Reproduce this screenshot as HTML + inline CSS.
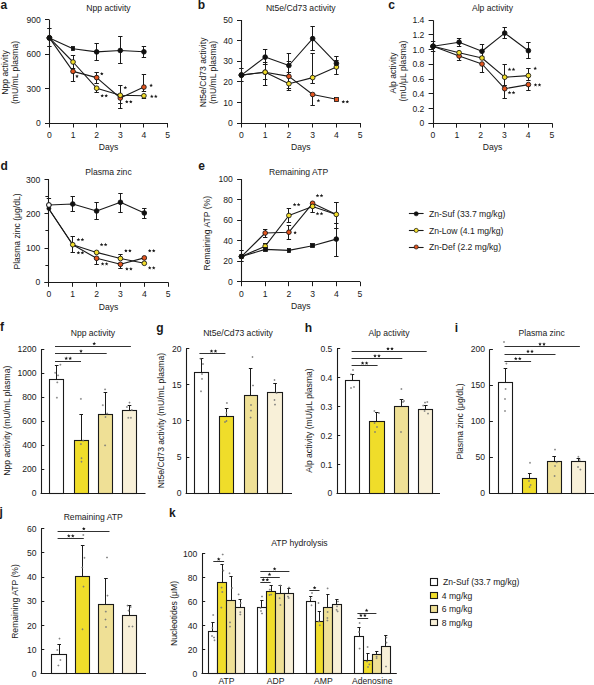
<!DOCTYPE html>
<html><head><meta charset="utf-8"><style>
html,body{margin:0;padding:0;background:#fff;}
body{width:594px;height:685px;overflow:hidden;}
svg{display:block;}
text{font-family:"Liberation Sans",sans-serif;fill:#1a1a1a;}
</style></head><body>
<svg width="594" height="685" viewBox="0 0 594 685">
<rect width="594" height="685" fill="#fff"/>
<line x1="49.5" y1="19.8" x2="49.5" y2="123.5" stroke="#1a1a1a" stroke-width="1.1"/>
<line x1="45" y1="123.5" x2="167.55" y2="123.5" stroke="#1a1a1a" stroke-width="1.1"/>
<line x1="45" y1="123.5" x2="49.4" y2="123.5" stroke="#1a1a1a" stroke-width="1.0"/>
<text x="40.8" y="126.1" font-size="8.6" text-anchor="end">0</text>
<line x1="45" y1="88.5" x2="49.4" y2="88.5" stroke="#1a1a1a" stroke-width="1.0"/>
<text x="40.8" y="91.7" font-size="8.6" text-anchor="end">300</text>
<line x1="45" y1="54.5" x2="49.4" y2="54.5" stroke="#1a1a1a" stroke-width="1.0"/>
<text x="40.8" y="57.3" font-size="8.6" text-anchor="end">600</text>
<line x1="45" y1="19.5" x2="49.4" y2="19.5" stroke="#1a1a1a" stroke-width="1.0"/>
<text x="40.8" y="22.9" font-size="8.6" text-anchor="end">900</text>
<line x1="49.5" y1="123" x2="49.5" y2="127.5" stroke="#1a1a1a" stroke-width="1.0"/>
<text x="49.4" y="137.8" font-size="8.6" text-anchor="middle">0</text>
<line x1="73.5" y1="123" x2="73.5" y2="127.5" stroke="#1a1a1a" stroke-width="1.0"/>
<text x="73.03" y="137.8" font-size="8.6" text-anchor="middle">1</text>
<line x1="96.5" y1="123" x2="96.5" y2="127.5" stroke="#1a1a1a" stroke-width="1.0"/>
<text x="96.66" y="137.8" font-size="8.6" text-anchor="middle">2</text>
<line x1="120.5" y1="123" x2="120.5" y2="127.5" stroke="#1a1a1a" stroke-width="1.0"/>
<text x="120.29" y="137.8" font-size="8.6" text-anchor="middle">3</text>
<line x1="143.5" y1="123" x2="143.5" y2="127.5" stroke="#1a1a1a" stroke-width="1.0"/>
<text x="143.92" y="137.8" font-size="8.6" text-anchor="middle">4</text>
<line x1="167.5" y1="123" x2="167.5" y2="127.5" stroke="#1a1a1a" stroke-width="1.0"/>
<text x="167.55" y="137.8" font-size="8.6" text-anchor="middle">5</text>
<text x="108.47" y="150.2" font-size="8.6" text-anchor="middle">Days</text>
<text x="108.47" y="10.6" font-size="8.6" text-anchor="middle">Npp activity</text>
<text x="8.3" y="72.5" font-size="8.6" text-anchor="middle" transform="rotate(-90 8.3 72.5)">Npp activity</text>
<text x="18.2" y="72.5" font-size="8.6" text-anchor="middle" transform="rotate(-90 18.2 72.5)">(mU/mL plasma)</text>
<text x="0.5" y="9.2" font-size="12" text-anchor="start" font-weight="bold">a</text>
<polyline points="49.4,37.9 73.03,48.7 96.66,51.9 120.29,50.5 143.92,51.8" fill="none" stroke="#1a1a1a" stroke-width="1.1" stroke-linejoin="round"/>
<polyline points="49.4,37.9 73.03,62 96.66,88.2 120.29,95.3 143.92,95.8" fill="none" stroke="#1a1a1a" stroke-width="1.1" stroke-linejoin="round"/>
<polyline points="49.4,37.9 73.03,71.4 96.66,77.6 120.29,98 143.92,87.1" fill="none" stroke="#1a1a1a" stroke-width="1.1" stroke-linejoin="round"/>
<line x1="49.5" y1="28.9" x2="49.5" y2="37.9" stroke="#1a1a1a" stroke-width="1.0"/>
<line x1="47.2" y1="28.5" x2="51.6" y2="28.5" stroke="#1a1a1a" stroke-width="1.0"/>
<line x1="49.5" y1="37.9" x2="49.5" y2="46.4" stroke="#1a1a1a" stroke-width="1.0"/>
<line x1="47.2" y1="46.5" x2="51.6" y2="46.5" stroke="#1a1a1a" stroke-width="1.0"/>
<line x1="96.5" y1="43.5" x2="96.5" y2="51.9" stroke="#1a1a1a" stroke-width="1.0"/>
<line x1="94.46" y1="43.5" x2="98.86" y2="43.5" stroke="#1a1a1a" stroke-width="1.0"/>
<line x1="96.5" y1="51.9" x2="96.5" y2="60.2" stroke="#1a1a1a" stroke-width="1.0"/>
<line x1="94.46" y1="60.5" x2="98.86" y2="60.5" stroke="#1a1a1a" stroke-width="1.0"/>
<line x1="120.5" y1="36.2" x2="120.5" y2="50.5" stroke="#1a1a1a" stroke-width="1.0"/>
<line x1="118.09" y1="36.5" x2="122.49" y2="36.5" stroke="#1a1a1a" stroke-width="1.0"/>
<line x1="120.5" y1="50.5" x2="120.5" y2="63.5" stroke="#1a1a1a" stroke-width="1.0"/>
<line x1="118.09" y1="63.5" x2="122.49" y2="63.5" stroke="#1a1a1a" stroke-width="1.0"/>
<line x1="143.5" y1="46.5" x2="143.5" y2="51.8" stroke="#1a1a1a" stroke-width="1.0"/>
<line x1="141.72" y1="46.5" x2="146.12" y2="46.5" stroke="#1a1a1a" stroke-width="1.0"/>
<line x1="143.5" y1="51.8" x2="143.5" y2="57.6" stroke="#1a1a1a" stroke-width="1.0"/>
<line x1="141.72" y1="57.5" x2="146.12" y2="57.5" stroke="#1a1a1a" stroke-width="1.0"/>
<line x1="73.5" y1="55.5" x2="73.5" y2="62" stroke="#1a1a1a" stroke-width="1.0"/>
<line x1="70.83" y1="55.5" x2="75.23" y2="55.5" stroke="#1a1a1a" stroke-width="1.0"/>
<line x1="73.5" y1="62" x2="73.5" y2="68" stroke="#1a1a1a" stroke-width="1.0"/>
<line x1="70.83" y1="68.5" x2="75.23" y2="68.5" stroke="#1a1a1a" stroke-width="1.0"/>
<line x1="96.5" y1="88.2" x2="96.5" y2="92.4" stroke="#1a1a1a" stroke-width="1.0"/>
<line x1="94.46" y1="92.5" x2="98.86" y2="92.5" stroke="#1a1a1a" stroke-width="1.0"/>
<line x1="120.5" y1="85.5" x2="120.5" y2="95.3" stroke="#1a1a1a" stroke-width="1.0"/>
<line x1="118.09" y1="85.5" x2="122.49" y2="85.5" stroke="#1a1a1a" stroke-width="1.0"/>
<line x1="120.5" y1="95.3" x2="120.5" y2="103" stroke="#1a1a1a" stroke-width="1.0"/>
<line x1="118.09" y1="103.5" x2="122.49" y2="103.5" stroke="#1a1a1a" stroke-width="1.0"/>
<line x1="143.5" y1="95.8" x2="143.5" y2="98.8" stroke="#1a1a1a" stroke-width="1.0"/>
<line x1="141.72" y1="98.5" x2="146.12" y2="98.5" stroke="#1a1a1a" stroke-width="1.0"/>
<line x1="73.5" y1="71.4" x2="73.5" y2="81.7" stroke="#1a1a1a" stroke-width="1.0"/>
<line x1="70.83" y1="81.5" x2="75.23" y2="81.5" stroke="#1a1a1a" stroke-width="1.0"/>
<line x1="96.5" y1="72.1" x2="96.5" y2="77.6" stroke="#1a1a1a" stroke-width="1.0"/>
<line x1="94.46" y1="72.5" x2="98.86" y2="72.5" stroke="#1a1a1a" stroke-width="1.0"/>
<line x1="96.5" y1="77.6" x2="96.5" y2="83.4" stroke="#1a1a1a" stroke-width="1.0"/>
<line x1="94.46" y1="83.5" x2="98.86" y2="83.5" stroke="#1a1a1a" stroke-width="1.0"/>
<line x1="120.5" y1="98" x2="120.5" y2="108.4" stroke="#1a1a1a" stroke-width="1.0"/>
<line x1="118.09" y1="108.5" x2="122.49" y2="108.5" stroke="#1a1a1a" stroke-width="1.0"/>
<line x1="143.5" y1="74.8" x2="143.5" y2="87.1" stroke="#1a1a1a" stroke-width="1.0"/>
<line x1="141.72" y1="74.5" x2="146.12" y2="74.5" stroke="#1a1a1a" stroke-width="1.0"/>
<line x1="143.5" y1="87.1" x2="143.5" y2="91.2" stroke="#1a1a1a" stroke-width="1.0"/>
<line x1="141.72" y1="91.5" x2="146.12" y2="91.5" stroke="#1a1a1a" stroke-width="1.0"/>
<circle cx="49.4" cy="37.9" r="2.35" fill="#e4561f" stroke="#111" stroke-width="0.85"/>
<circle cx="73.03" cy="71.4" r="2.35" fill="#e4561f" stroke="#111" stroke-width="0.85"/>
<circle cx="96.66" cy="77.6" r="2.35" fill="#e4561f" stroke="#111" stroke-width="0.85"/>
<circle cx="120.29" cy="98" r="2.35" fill="#e4561f" stroke="#111" stroke-width="0.85"/>
<circle cx="143.92" cy="87.1" r="2.35" fill="#e4561f" stroke="#111" stroke-width="0.85"/>
<circle cx="49.4" cy="37.9" r="2.35" fill="#f2dd2c" stroke="#111" stroke-width="0.85"/>
<circle cx="73.03" cy="62" r="2.35" fill="#f2dd2c" stroke="#111" stroke-width="0.85"/>
<circle cx="96.66" cy="88.2" r="2.35" fill="#f2dd2c" stroke="#111" stroke-width="0.85"/>
<circle cx="120.29" cy="95.3" r="2.35" fill="#f2dd2c" stroke="#111" stroke-width="0.85"/>
<circle cx="143.92" cy="95.8" r="2.35" fill="#f2dd2c" stroke="#111" stroke-width="0.85"/>
<circle cx="49.4" cy="37.9" r="2.35" fill="#111" stroke="#111" stroke-width="0.85"/>
<rect x="71.5" y="46.5" width="3" height="4" fill="#111" stroke="#111" stroke-width="0.8"/>
<circle cx="96.66" cy="51.9" r="2.35" fill="#111" stroke="#111" stroke-width="0.85"/>
<circle cx="120.29" cy="50.5" r="2.35" fill="#111" stroke="#111" stroke-width="0.85"/>
<circle cx="143.92" cy="51.8" r="2.35" fill="#111" stroke="#111" stroke-width="0.85"/>
<polygon points="77,74.4 77.5,75.61 78.81,75.71 77.81,76.56 78.12,77.84 77,77.15 75.88,77.84 76.19,76.56 75.19,75.71 76.5,75.61" fill="#1a1a1a"/>
<polygon points="101.8,71.9 102.3,73.11 103.61,73.21 102.61,74.06 102.92,75.34 101.8,74.65 100.68,75.34 100.99,74.06 99.99,73.21 101.3,73.11" fill="#1a1a1a"/>
<polygon points="102.2,93.9 102.7,95.11 104.01,95.21 103.01,96.06 103.32,97.34 102.2,96.65 101.08,97.34 101.39,96.06 100.39,95.21 101.7,95.11" fill="#1a1a1a"/>
<polygon points="106.2,93.9 106.7,95.11 108.01,95.21 107.01,96.06 107.32,97.34 106.2,96.65 105.08,97.34 105.39,96.06 104.39,95.21 105.7,95.11" fill="#1a1a1a"/>
<polygon points="125.3,85.8 125.8,87.01 127.11,87.11 126.11,87.96 126.42,89.24 125.3,88.55 124.18,89.24 124.49,87.96 123.49,87.11 124.8,87.01" fill="#1a1a1a"/>
<polygon points="126.8,99.9 127.3,101.11 128.61,101.21 127.61,102.06 127.92,103.34 126.8,102.65 125.68,103.34 125.99,102.06 124.99,101.21 126.3,101.11" fill="#1a1a1a"/>
<polygon points="130.8,99.9 131.3,101.11 132.61,101.21 131.61,102.06 131.92,103.34 130.8,102.65 129.68,103.34 129.99,102.06 128.99,101.21 130.3,101.11" fill="#1a1a1a"/>
<polygon points="151.1,83.6 151.6,84.81 152.91,84.91 151.91,85.76 152.22,87.04 151.1,86.35 149.98,87.04 150.29,85.76 149.29,84.91 150.6,84.81" fill="#1a1a1a"/>
<polygon points="151.8,94.6 152.3,95.81 153.61,95.91 152.61,96.76 152.92,98.04 151.8,97.35 150.68,98.04 150.99,96.76 149.99,95.91 151.3,95.81" fill="#1a1a1a"/>
<polygon points="155.8,94.6 156.3,95.81 157.61,95.91 156.61,96.76 156.92,98.04 155.8,97.35 154.68,98.04 154.99,96.76 153.99,95.91 155.3,95.81" fill="#1a1a1a"/>
<line x1="241.5" y1="20" x2="241.5" y2="123.5" stroke="#1a1a1a" stroke-width="1.1"/>
<line x1="237" y1="123.5" x2="360.15" y2="123.5" stroke="#1a1a1a" stroke-width="1.1"/>
<line x1="237" y1="123.5" x2="241.4" y2="123.5" stroke="#1a1a1a" stroke-width="1.0"/>
<text x="232.8" y="126.1" font-size="8.6" text-anchor="end">0</text>
<line x1="237" y1="102.5" x2="241.4" y2="102.5" stroke="#1a1a1a" stroke-width="1.0"/>
<text x="232.8" y="105.5" font-size="8.6" text-anchor="end">10</text>
<line x1="237" y1="81.5" x2="241.4" y2="81.5" stroke="#1a1a1a" stroke-width="1.0"/>
<text x="232.8" y="84.9" font-size="8.6" text-anchor="end">20</text>
<line x1="237" y1="61.5" x2="241.4" y2="61.5" stroke="#1a1a1a" stroke-width="1.0"/>
<text x="232.8" y="64.3" font-size="8.6" text-anchor="end">30</text>
<line x1="237" y1="40.5" x2="241.4" y2="40.5" stroke="#1a1a1a" stroke-width="1.0"/>
<text x="232.8" y="43.7" font-size="8.6" text-anchor="end">40</text>
<line x1="237" y1="20.5" x2="241.4" y2="20.5" stroke="#1a1a1a" stroke-width="1.0"/>
<text x="232.8" y="23.1" font-size="8.6" text-anchor="end">50</text>
<line x1="241.5" y1="123" x2="241.5" y2="127.5" stroke="#1a1a1a" stroke-width="1.0"/>
<text x="241.4" y="137.8" font-size="8.6" text-anchor="middle">0</text>
<line x1="265.5" y1="123" x2="265.5" y2="127.5" stroke="#1a1a1a" stroke-width="1.0"/>
<text x="265.15" y="137.8" font-size="8.6" text-anchor="middle">1</text>
<line x1="288.5" y1="123" x2="288.5" y2="127.5" stroke="#1a1a1a" stroke-width="1.0"/>
<text x="288.9" y="137.8" font-size="8.6" text-anchor="middle">2</text>
<line x1="312.5" y1="123" x2="312.5" y2="127.5" stroke="#1a1a1a" stroke-width="1.0"/>
<text x="312.65" y="137.8" font-size="8.6" text-anchor="middle">3</text>
<line x1="336.5" y1="123" x2="336.5" y2="127.5" stroke="#1a1a1a" stroke-width="1.0"/>
<text x="336.4" y="137.8" font-size="8.6" text-anchor="middle">4</text>
<line x1="360.5" y1="123" x2="360.5" y2="127.5" stroke="#1a1a1a" stroke-width="1.0"/>
<text x="360.15" y="137.8" font-size="8.6" text-anchor="middle">5</text>
<text x="300.77" y="150.2" font-size="8.6" text-anchor="middle">Days</text>
<text x="300.77" y="10.6" font-size="8.6" text-anchor="middle">Nt5e/Cd73 activity</text>
<text x="206.3" y="72.4" font-size="8.6" text-anchor="middle" transform="rotate(-90 206.3 72.4)">Nt5e/Cd73 activity</text>
<text x="216.2" y="72.4" font-size="8.6" text-anchor="middle" transform="rotate(-90 216.2 72.4)">(mU/mL plasma)</text>
<text x="197.7" y="9.2" font-size="12" text-anchor="start" font-weight="bold">b</text>
<polyline points="241.4,75.1 265.15,57.1 288.9,65.5 312.65,38.6 336.4,63.4" fill="none" stroke="#1a1a1a" stroke-width="1.1" stroke-linejoin="round"/>
<polyline points="241.4,75.1 265.15,72.2 288.9,83.7 312.65,77.6 336.4,67" fill="none" stroke="#1a1a1a" stroke-width="1.1" stroke-linejoin="round"/>
<polyline points="241.4,75.1 265.15,72.2 288.9,76.4 312.65,94.5 336.4,99.3" fill="none" stroke="#1a1a1a" stroke-width="1.1" stroke-linejoin="round"/>
<line x1="241.5" y1="68.4" x2="241.5" y2="75.1" stroke="#1a1a1a" stroke-width="1.0"/>
<line x1="239.2" y1="68.5" x2="243.6" y2="68.5" stroke="#1a1a1a" stroke-width="1.0"/>
<line x1="241.5" y1="75.1" x2="241.5" y2="81.8" stroke="#1a1a1a" stroke-width="1.0"/>
<line x1="239.2" y1="81.5" x2="243.6" y2="81.5" stroke="#1a1a1a" stroke-width="1.0"/>
<line x1="265.5" y1="49.5" x2="265.5" y2="57.1" stroke="#1a1a1a" stroke-width="1.0"/>
<line x1="262.95" y1="49.5" x2="267.35" y2="49.5" stroke="#1a1a1a" stroke-width="1.0"/>
<line x1="265.5" y1="57.1" x2="265.5" y2="64.2" stroke="#1a1a1a" stroke-width="1.0"/>
<line x1="262.95" y1="64.5" x2="267.35" y2="64.5" stroke="#1a1a1a" stroke-width="1.0"/>
<line x1="288.5" y1="53.7" x2="288.5" y2="65.5" stroke="#1a1a1a" stroke-width="1.0"/>
<line x1="286.7" y1="53.5" x2="291.1" y2="53.5" stroke="#1a1a1a" stroke-width="1.0"/>
<line x1="288.5" y1="65.5" x2="288.5" y2="72" stroke="#1a1a1a" stroke-width="1.0"/>
<line x1="286.7" y1="72.5" x2="291.1" y2="72.5" stroke="#1a1a1a" stroke-width="1.0"/>
<line x1="312.5" y1="26.6" x2="312.5" y2="38.6" stroke="#1a1a1a" stroke-width="1.0"/>
<line x1="310.45" y1="26.5" x2="314.85" y2="26.5" stroke="#1a1a1a" stroke-width="1.0"/>
<line x1="312.5" y1="38.6" x2="312.5" y2="50.5" stroke="#1a1a1a" stroke-width="1.0"/>
<line x1="310.45" y1="50.5" x2="314.85" y2="50.5" stroke="#1a1a1a" stroke-width="1.0"/>
<line x1="336.5" y1="56.9" x2="336.5" y2="63.4" stroke="#1a1a1a" stroke-width="1.0"/>
<line x1="334.2" y1="56.5" x2="338.6" y2="56.5" stroke="#1a1a1a" stroke-width="1.0"/>
<line x1="265.5" y1="62.1" x2="265.5" y2="72.2" stroke="#1a1a1a" stroke-width="1.0"/>
<line x1="262.95" y1="62.5" x2="267.35" y2="62.5" stroke="#1a1a1a" stroke-width="1.0"/>
<line x1="265.5" y1="72.2" x2="265.5" y2="85.4" stroke="#1a1a1a" stroke-width="1.0"/>
<line x1="262.95" y1="85.5" x2="267.35" y2="85.5" stroke="#1a1a1a" stroke-width="1.0"/>
<line x1="288.5" y1="76" x2="288.5" y2="83.7" stroke="#1a1a1a" stroke-width="1.0"/>
<line x1="286.7" y1="76.5" x2="291.1" y2="76.5" stroke="#1a1a1a" stroke-width="1.0"/>
<line x1="288.5" y1="83.7" x2="288.5" y2="90.8" stroke="#1a1a1a" stroke-width="1.0"/>
<line x1="286.7" y1="90.5" x2="291.1" y2="90.5" stroke="#1a1a1a" stroke-width="1.0"/>
<line x1="312.5" y1="53.7" x2="312.5" y2="77.6" stroke="#1a1a1a" stroke-width="1.0"/>
<line x1="310.45" y1="53.5" x2="314.85" y2="53.5" stroke="#1a1a1a" stroke-width="1.0"/>
<line x1="312.5" y1="77.6" x2="312.5" y2="83.8" stroke="#1a1a1a" stroke-width="1.0"/>
<line x1="310.45" y1="83.5" x2="314.85" y2="83.5" stroke="#1a1a1a" stroke-width="1.0"/>
<line x1="336.5" y1="60" x2="336.5" y2="67" stroke="#1a1a1a" stroke-width="1.0"/>
<line x1="334.2" y1="60.5" x2="338.6" y2="60.5" stroke="#1a1a1a" stroke-width="1.0"/>
<line x1="336.5" y1="67" x2="336.5" y2="74.3" stroke="#1a1a1a" stroke-width="1.0"/>
<line x1="334.2" y1="74.5" x2="338.6" y2="74.5" stroke="#1a1a1a" stroke-width="1.0"/>
<line x1="265.5" y1="64" x2="265.5" y2="72.2" stroke="#1a1a1a" stroke-width="1.0"/>
<line x1="262.95" y1="64.5" x2="267.35" y2="64.5" stroke="#1a1a1a" stroke-width="1.0"/>
<line x1="265.5" y1="72.2" x2="265.5" y2="79.8" stroke="#1a1a1a" stroke-width="1.0"/>
<line x1="262.95" y1="79.5" x2="267.35" y2="79.5" stroke="#1a1a1a" stroke-width="1.0"/>
<line x1="288.5" y1="61.3" x2="288.5" y2="76.4" stroke="#1a1a1a" stroke-width="1.0"/>
<line x1="286.7" y1="61.5" x2="291.1" y2="61.5" stroke="#1a1a1a" stroke-width="1.0"/>
<line x1="288.5" y1="76.4" x2="288.5" y2="88.2" stroke="#1a1a1a" stroke-width="1.0"/>
<line x1="286.7" y1="88.5" x2="291.1" y2="88.5" stroke="#1a1a1a" stroke-width="1.0"/>
<line x1="312.5" y1="94.5" x2="312.5" y2="105.2" stroke="#1a1a1a" stroke-width="1.0"/>
<line x1="310.45" y1="105.5" x2="314.85" y2="105.5" stroke="#1a1a1a" stroke-width="1.0"/>
<circle cx="241.4" cy="75.1" r="2.35" fill="#e4561f" stroke="#111" stroke-width="0.85"/>
<circle cx="265.15" cy="72.2" r="2.35" fill="#e4561f" stroke="#111" stroke-width="0.85"/>
<circle cx="288.9" cy="76.4" r="2.35" fill="#e4561f" stroke="#111" stroke-width="0.85"/>
<circle cx="312.65" cy="94.5" r="2.35" fill="#e4561f" stroke="#111" stroke-width="0.85"/>
<rect x="334.5" y="97.5" width="4" height="4" fill="#e4561f" stroke="#111" stroke-width="0.8"/>
<circle cx="241.4" cy="75.1" r="2.35" fill="#f2dd2c" stroke="#111" stroke-width="0.85"/>
<circle cx="265.15" cy="72.2" r="2.35" fill="#f2dd2c" stroke="#111" stroke-width="0.85"/>
<circle cx="288.9" cy="83.7" r="2.35" fill="#f2dd2c" stroke="#111" stroke-width="0.85"/>
<circle cx="312.65" cy="77.6" r="2.35" fill="#f2dd2c" stroke="#111" stroke-width="0.85"/>
<circle cx="336.4" cy="67" r="2.35" fill="#f2dd2c" stroke="#111" stroke-width="0.85"/>
<circle cx="241.4" cy="75.1" r="2.35" fill="#111" stroke="#111" stroke-width="0.85"/>
<circle cx="265.15" cy="57.1" r="2.35" fill="#111" stroke="#111" stroke-width="0.85"/>
<circle cx="288.9" cy="65.5" r="2.35" fill="#111" stroke="#111" stroke-width="0.85"/>
<circle cx="312.65" cy="38.6" r="2.35" fill="#111" stroke="#111" stroke-width="0.85"/>
<circle cx="336.4" cy="63.4" r="2.35" fill="#111" stroke="#111" stroke-width="0.85"/>
<polygon points="318.4,98.7 318.9,99.91 320.21,100.01 319.21,100.86 319.52,102.14 318.4,101.45 317.28,102.14 317.59,100.86 316.59,100.01 317.9,99.91" fill="#1a1a1a"/>
<polygon points="343.3,99.9 343.8,101.11 345.11,101.21 344.11,102.06 344.42,103.34 343.3,102.65 342.18,103.34 342.49,102.06 341.49,101.21 342.8,101.11" fill="#1a1a1a"/>
<polygon points="347.3,99.9 347.8,101.11 349.11,101.21 348.11,102.06 348.42,103.34 347.3,102.65 346.18,103.34 346.49,102.06 345.49,101.21 346.8,101.11" fill="#1a1a1a"/>
<line x1="433.5" y1="20.2" x2="433.5" y2="123.7" stroke="#1a1a1a" stroke-width="1.1"/>
<line x1="428.6" y1="123.5" x2="552" y2="123.5" stroke="#1a1a1a" stroke-width="1.1"/>
<line x1="428.6" y1="123.5" x2="433" y2="123.5" stroke="#1a1a1a" stroke-width="1.0"/>
<text x="424.4" y="126.3" font-size="8.6" text-anchor="end">0</text>
<line x1="428.6" y1="108.5" x2="433" y2="108.5" stroke="#1a1a1a" stroke-width="1.0"/>
<text x="424.4" y="111.58" font-size="8.6" text-anchor="end">0.2</text>
<line x1="428.6" y1="93.5" x2="433" y2="93.5" stroke="#1a1a1a" stroke-width="1.0"/>
<text x="424.4" y="96.86" font-size="8.6" text-anchor="end">0.4</text>
<line x1="428.6" y1="79.5" x2="433" y2="79.5" stroke="#1a1a1a" stroke-width="1.0"/>
<text x="424.4" y="82.14" font-size="8.6" text-anchor="end">0.6</text>
<line x1="428.6" y1="64.5" x2="433" y2="64.5" stroke="#1a1a1a" stroke-width="1.0"/>
<text x="424.4" y="67.42" font-size="8.6" text-anchor="end">0.8</text>
<line x1="428.6" y1="49.5" x2="433" y2="49.5" stroke="#1a1a1a" stroke-width="1.0"/>
<text x="424.4" y="52.7" font-size="8.6" text-anchor="end">1.0</text>
<line x1="428.6" y1="34.5" x2="433" y2="34.5" stroke="#1a1a1a" stroke-width="1.0"/>
<text x="424.4" y="37.98" font-size="8.6" text-anchor="end">1.2</text>
<line x1="428.6" y1="20.5" x2="433" y2="20.5" stroke="#1a1a1a" stroke-width="1.0"/>
<text x="424.4" y="23.26" font-size="8.6" text-anchor="end">1.4</text>
<line x1="433.5" y1="123.2" x2="433.5" y2="127.7" stroke="#1a1a1a" stroke-width="1.0"/>
<text x="433" y="138" font-size="8.6" text-anchor="middle">0</text>
<line x1="456.5" y1="123.2" x2="456.5" y2="127.7" stroke="#1a1a1a" stroke-width="1.0"/>
<text x="456.8" y="138" font-size="8.6" text-anchor="middle">1</text>
<line x1="480.5" y1="123.2" x2="480.5" y2="127.7" stroke="#1a1a1a" stroke-width="1.0"/>
<text x="480.6" y="138" font-size="8.6" text-anchor="middle">2</text>
<line x1="504.5" y1="123.2" x2="504.5" y2="127.7" stroke="#1a1a1a" stroke-width="1.0"/>
<text x="504.4" y="138" font-size="8.6" text-anchor="middle">3</text>
<line x1="528.5" y1="123.2" x2="528.5" y2="127.7" stroke="#1a1a1a" stroke-width="1.0"/>
<text x="528.2" y="138" font-size="8.6" text-anchor="middle">4</text>
<line x1="552.5" y1="123.2" x2="552.5" y2="127.7" stroke="#1a1a1a" stroke-width="1.0"/>
<text x="552" y="138" font-size="8.6" text-anchor="middle">5</text>
<text x="492.5" y="150.4" font-size="8.6" text-anchor="middle">Days</text>
<text x="492.5" y="10.6" font-size="8.6" text-anchor="middle">Alp activity</text>
<text x="396" y="73" font-size="8.6" text-anchor="middle" transform="rotate(-90 396 73)">Alp activity</text>
<text x="405.8" y="71" font-size="8.6" text-anchor="middle" transform="rotate(-90 405.8 71)">(mU/μL plasma)</text>
<text x="388.2" y="9.2" font-size="12" text-anchor="start" font-weight="bold">c</text>
<polyline points="433.1,46.3 459.1,42.2 482,51.3 504.7,33.1 528.4,50.7" fill="none" stroke="#1a1a1a" stroke-width="1.1" stroke-linejoin="round"/>
<polyline points="433.1,46.3 459.1,52.7 482,58 504.7,77.2 528.4,75.6" fill="none" stroke="#1a1a1a" stroke-width="1.1" stroke-linejoin="round"/>
<polyline points="433.1,46.3 459.1,56 482,64 504.7,88.7 528.4,84.6" fill="none" stroke="#1a1a1a" stroke-width="1.1" stroke-linejoin="round"/>
<line x1="433.5" y1="41" x2="433.5" y2="46.3" stroke="#1a1a1a" stroke-width="1.0"/>
<line x1="430.9" y1="41.5" x2="435.3" y2="41.5" stroke="#1a1a1a" stroke-width="1.0"/>
<line x1="433.5" y1="46.3" x2="433.5" y2="51.5" stroke="#1a1a1a" stroke-width="1.0"/>
<line x1="430.9" y1="51.5" x2="435.3" y2="51.5" stroke="#1a1a1a" stroke-width="1.0"/>
<line x1="459.5" y1="38.6" x2="459.5" y2="42.2" stroke="#1a1a1a" stroke-width="1.0"/>
<line x1="456.9" y1="38.5" x2="461.3" y2="38.5" stroke="#1a1a1a" stroke-width="1.0"/>
<line x1="459.5" y1="42.2" x2="459.5" y2="46" stroke="#1a1a1a" stroke-width="1.0"/>
<line x1="456.9" y1="46.5" x2="461.3" y2="46.5" stroke="#1a1a1a" stroke-width="1.0"/>
<line x1="482.5" y1="44.6" x2="482.5" y2="51.3" stroke="#1a1a1a" stroke-width="1.0"/>
<line x1="479.8" y1="44.5" x2="484.2" y2="44.5" stroke="#1a1a1a" stroke-width="1.0"/>
<line x1="482.5" y1="51.3" x2="482.5" y2="56" stroke="#1a1a1a" stroke-width="1.0"/>
<line x1="479.8" y1="56.5" x2="484.2" y2="56.5" stroke="#1a1a1a" stroke-width="1.0"/>
<line x1="504.5" y1="27.7" x2="504.5" y2="33.1" stroke="#1a1a1a" stroke-width="1.0"/>
<line x1="502.5" y1="27.5" x2="506.9" y2="27.5" stroke="#1a1a1a" stroke-width="1.0"/>
<line x1="504.5" y1="33.1" x2="504.5" y2="38.2" stroke="#1a1a1a" stroke-width="1.0"/>
<line x1="502.5" y1="38.5" x2="506.9" y2="38.5" stroke="#1a1a1a" stroke-width="1.0"/>
<line x1="528.5" y1="42.6" x2="528.5" y2="50.7" stroke="#1a1a1a" stroke-width="1.0"/>
<line x1="526.2" y1="42.5" x2="530.6" y2="42.5" stroke="#1a1a1a" stroke-width="1.0"/>
<line x1="528.5" y1="50.7" x2="528.5" y2="58" stroke="#1a1a1a" stroke-width="1.0"/>
<line x1="526.2" y1="58.5" x2="530.6" y2="58.5" stroke="#1a1a1a" stroke-width="1.0"/>
<line x1="504.5" y1="64.8" x2="504.5" y2="77.2" stroke="#1a1a1a" stroke-width="1.0"/>
<line x1="502.5" y1="64.5" x2="506.9" y2="64.5" stroke="#1a1a1a" stroke-width="1.0"/>
<line x1="504.5" y1="77.2" x2="504.5" y2="85" stroke="#1a1a1a" stroke-width="1.0"/>
<line x1="502.5" y1="85.5" x2="506.9" y2="85.5" stroke="#1a1a1a" stroke-width="1.0"/>
<line x1="528.5" y1="68.5" x2="528.5" y2="75.6" stroke="#1a1a1a" stroke-width="1.0"/>
<line x1="526.2" y1="68.5" x2="530.6" y2="68.5" stroke="#1a1a1a" stroke-width="1.0"/>
<line x1="528.5" y1="75.6" x2="528.5" y2="80" stroke="#1a1a1a" stroke-width="1.0"/>
<line x1="526.2" y1="80.5" x2="530.6" y2="80.5" stroke="#1a1a1a" stroke-width="1.0"/>
<line x1="459.5" y1="56" x2="459.5" y2="60" stroke="#1a1a1a" stroke-width="1.0"/>
<line x1="456.9" y1="60.5" x2="461.3" y2="60.5" stroke="#1a1a1a" stroke-width="1.0"/>
<line x1="482.5" y1="64" x2="482.5" y2="72.5" stroke="#1a1a1a" stroke-width="1.0"/>
<line x1="479.8" y1="72.5" x2="484.2" y2="72.5" stroke="#1a1a1a" stroke-width="1.0"/>
<line x1="504.5" y1="88.7" x2="504.5" y2="98" stroke="#1a1a1a" stroke-width="1.0"/>
<line x1="502.5" y1="98.5" x2="506.9" y2="98.5" stroke="#1a1a1a" stroke-width="1.0"/>
<line x1="528.5" y1="84.6" x2="528.5" y2="90.3" stroke="#1a1a1a" stroke-width="1.0"/>
<line x1="526.2" y1="90.5" x2="530.6" y2="90.5" stroke="#1a1a1a" stroke-width="1.0"/>
<circle cx="433.1" cy="46.3" r="2.35" fill="#e4561f" stroke="#111" stroke-width="0.85"/>
<circle cx="459.1" cy="56" r="2.35" fill="#e4561f" stroke="#111" stroke-width="0.85"/>
<circle cx="482" cy="64" r="2.35" fill="#e4561f" stroke="#111" stroke-width="0.85"/>
<circle cx="504.7" cy="88.7" r="2.35" fill="#e4561f" stroke="#111" stroke-width="0.85"/>
<circle cx="528.4" cy="84.6" r="2.35" fill="#e4561f" stroke="#111" stroke-width="0.85"/>
<circle cx="433.1" cy="46.3" r="2.35" fill="#f2dd2c" stroke="#111" stroke-width="0.85"/>
<circle cx="459.1" cy="52.7" r="2.35" fill="#f2dd2c" stroke="#111" stroke-width="0.85"/>
<circle cx="482" cy="58" r="2.35" fill="#f2dd2c" stroke="#111" stroke-width="0.85"/>
<circle cx="504.7" cy="77.2" r="2.35" fill="#f2dd2c" stroke="#111" stroke-width="0.85"/>
<circle cx="528.4" cy="75.6" r="2.35" fill="#f2dd2c" stroke="#111" stroke-width="0.85"/>
<circle cx="433.1" cy="46.3" r="2.35" fill="#111" stroke="#111" stroke-width="0.85"/>
<circle cx="459.1" cy="42.2" r="2.35" fill="#111" stroke="#111" stroke-width="0.85"/>
<circle cx="482" cy="51.3" r="2.35" fill="#111" stroke="#111" stroke-width="0.85"/>
<circle cx="504.7" cy="33.1" r="2.35" fill="#111" stroke="#111" stroke-width="0.85"/>
<circle cx="528.4" cy="50.7" r="2.35" fill="#111" stroke="#111" stroke-width="0.85"/>
<polygon points="509.5,67.6 510,68.81 511.31,68.91 510.31,69.76 510.62,71.04 509.5,70.35 508.38,71.04 508.69,69.76 507.69,68.91 509,68.81" fill="#1a1a1a"/>
<polygon points="513.5,67.6 514,68.81 515.31,68.91 514.31,69.76 514.62,71.04 513.5,70.35 512.38,71.04 512.69,69.76 511.69,68.91 513,68.81" fill="#1a1a1a"/>
<polygon points="535.2,66.6 535.7,67.81 537.01,67.91 536.01,68.76 536.32,70.04 535.2,69.35 534.08,70.04 534.39,68.76 533.39,67.91 534.7,67.81" fill="#1a1a1a"/>
<polygon points="535.5,83.1 536,84.31 537.31,84.41 536.31,85.26 536.62,86.54 535.5,85.85 534.38,86.54 534.69,85.26 533.69,84.41 535,84.31" fill="#1a1a1a"/>
<polygon points="539.5,83.1 540,84.31 541.31,84.41 540.31,85.26 540.62,86.54 539.5,85.85 538.38,86.54 538.69,85.26 537.69,84.41 539,84.31" fill="#1a1a1a"/>
<polygon points="509.5,90.8 510,92.01 511.31,92.11 510.31,92.96 510.62,94.24 509.5,93.55 508.38,94.24 508.69,92.96 507.69,92.11 509,92.01" fill="#1a1a1a"/>
<polygon points="513.5,90.8 514,92.01 515.31,92.11 514.31,92.96 514.62,94.24 513.5,93.55 512.38,94.24 512.69,92.96 511.69,92.11 513,92.01" fill="#1a1a1a"/>
<line x1="48.5" y1="179" x2="48.5" y2="282.8" stroke="#1a1a1a" stroke-width="1.1"/>
<line x1="44.5" y1="282.5" x2="168.15" y2="282.5" stroke="#1a1a1a" stroke-width="1.1"/>
<line x1="44.5" y1="282.5" x2="48.9" y2="282.5" stroke="#1a1a1a" stroke-width="1.0"/>
<text x="40.3" y="285.4" font-size="8.6" text-anchor="end">0</text>
<line x1="44.5" y1="248.5" x2="48.9" y2="248.5" stroke="#1a1a1a" stroke-width="1.0"/>
<text x="40.3" y="251.1" font-size="8.6" text-anchor="end">100</text>
<line x1="44.5" y1="213.5" x2="48.9" y2="213.5" stroke="#1a1a1a" stroke-width="1.0"/>
<text x="40.3" y="216.8" font-size="8.6" text-anchor="end">200</text>
<line x1="44.5" y1="179.5" x2="48.9" y2="179.5" stroke="#1a1a1a" stroke-width="1.0"/>
<text x="40.3" y="182.5" font-size="8.6" text-anchor="end">300</text>
<line x1="45.4" y1="265.5" x2="48.9" y2="265.5" stroke="#1a1a1a" stroke-width="1.0"/>
<line x1="45.4" y1="230.5" x2="48.9" y2="230.5" stroke="#1a1a1a" stroke-width="1.0"/>
<line x1="45.4" y1="196.5" x2="48.9" y2="196.5" stroke="#1a1a1a" stroke-width="1.0"/>
<line x1="48.5" y1="282.3" x2="48.5" y2="286.8" stroke="#1a1a1a" stroke-width="1.0"/>
<text x="48.9" y="297.1" font-size="8.6" text-anchor="middle">0</text>
<line x1="72.5" y1="282.3" x2="72.5" y2="286.8" stroke="#1a1a1a" stroke-width="1.0"/>
<text x="72.75" y="297.1" font-size="8.6" text-anchor="middle">1</text>
<line x1="96.5" y1="282.3" x2="96.5" y2="286.8" stroke="#1a1a1a" stroke-width="1.0"/>
<text x="96.6" y="297.1" font-size="8.6" text-anchor="middle">2</text>
<line x1="120.5" y1="282.3" x2="120.5" y2="286.8" stroke="#1a1a1a" stroke-width="1.0"/>
<text x="120.45" y="297.1" font-size="8.6" text-anchor="middle">3</text>
<line x1="144.5" y1="282.3" x2="144.5" y2="286.8" stroke="#1a1a1a" stroke-width="1.0"/>
<text x="144.3" y="297.1" font-size="8.6" text-anchor="middle">4</text>
<line x1="168.5" y1="282.3" x2="168.5" y2="286.8" stroke="#1a1a1a" stroke-width="1.0"/>
<text x="168.15" y="297.1" font-size="8.6" text-anchor="middle">5</text>
<text x="108.53" y="309.5" font-size="8.6" text-anchor="middle">Days</text>
<text x="108.53" y="174.8" font-size="8.6" text-anchor="middle">Plasma zinc</text>
<text x="20.3" y="231.5" font-size="8.6" text-anchor="middle" transform="rotate(-90 20.3 231.5)">Plasma zinc (μg/dL)</text>
<text x="0.5" y="169.5" font-size="12" text-anchor="start" font-weight="bold">d</text>
<polyline points="48.9,205 72.75,204 96.6,211 120.45,202.3 144.3,213" fill="none" stroke="#1a1a1a" stroke-width="1.1" stroke-linejoin="round"/>
<polyline points="48.9,209 72.75,244.7 96.6,252.4 120.45,258.5 144.3,263.3" fill="none" stroke="#1a1a1a" stroke-width="1.1" stroke-linejoin="round"/>
<polyline points="48.9,209 72.75,244.7 96.6,258.3 120.45,264.3 144.3,257.9" fill="none" stroke="#1a1a1a" stroke-width="1.1" stroke-linejoin="round"/>
<line x1="48.5" y1="198" x2="48.5" y2="205" stroke="#1a1a1a" stroke-width="1.0"/>
<line x1="46.7" y1="198.5" x2="51.1" y2="198.5" stroke="#1a1a1a" stroke-width="1.0"/>
<line x1="72.5" y1="196.9" x2="72.5" y2="204" stroke="#1a1a1a" stroke-width="1.0"/>
<line x1="70.55" y1="196.5" x2="74.95" y2="196.5" stroke="#1a1a1a" stroke-width="1.0"/>
<line x1="72.5" y1="204" x2="72.5" y2="211.4" stroke="#1a1a1a" stroke-width="1.0"/>
<line x1="70.55" y1="211.5" x2="74.95" y2="211.5" stroke="#1a1a1a" stroke-width="1.0"/>
<line x1="96.5" y1="202.7" x2="96.5" y2="211" stroke="#1a1a1a" stroke-width="1.0"/>
<line x1="94.4" y1="202.5" x2="98.8" y2="202.5" stroke="#1a1a1a" stroke-width="1.0"/>
<line x1="96.5" y1="211" x2="96.5" y2="219.5" stroke="#1a1a1a" stroke-width="1.0"/>
<line x1="94.4" y1="219.5" x2="98.8" y2="219.5" stroke="#1a1a1a" stroke-width="1.0"/>
<line x1="120.5" y1="193.2" x2="120.5" y2="202.3" stroke="#1a1a1a" stroke-width="1.0"/>
<line x1="118.25" y1="193.5" x2="122.65" y2="193.5" stroke="#1a1a1a" stroke-width="1.0"/>
<line x1="120.5" y1="202.3" x2="120.5" y2="212" stroke="#1a1a1a" stroke-width="1.0"/>
<line x1="118.25" y1="212.5" x2="122.65" y2="212.5" stroke="#1a1a1a" stroke-width="1.0"/>
<line x1="144.5" y1="208.4" x2="144.5" y2="213" stroke="#1a1a1a" stroke-width="1.0"/>
<line x1="142.1" y1="208.5" x2="146.5" y2="208.5" stroke="#1a1a1a" stroke-width="1.0"/>
<line x1="144.5" y1="213" x2="144.5" y2="218.5" stroke="#1a1a1a" stroke-width="1.0"/>
<line x1="142.1" y1="218.5" x2="146.5" y2="218.5" stroke="#1a1a1a" stroke-width="1.0"/>
<line x1="72.5" y1="236.3" x2="72.5" y2="244.7" stroke="#1a1a1a" stroke-width="1.0"/>
<line x1="70.55" y1="236.5" x2="74.95" y2="236.5" stroke="#1a1a1a" stroke-width="1.0"/>
<line x1="72.5" y1="244.7" x2="72.5" y2="252.8" stroke="#1a1a1a" stroke-width="1.0"/>
<line x1="70.55" y1="252.5" x2="74.95" y2="252.5" stroke="#1a1a1a" stroke-width="1.0"/>
<line x1="120.5" y1="254.5" x2="120.5" y2="258.5" stroke="#1a1a1a" stroke-width="1.0"/>
<line x1="118.25" y1="254.5" x2="122.65" y2="254.5" stroke="#1a1a1a" stroke-width="1.0"/>
<line x1="96.5" y1="258.3" x2="96.5" y2="264" stroke="#1a1a1a" stroke-width="1.0"/>
<line x1="94.4" y1="264.5" x2="98.8" y2="264.5" stroke="#1a1a1a" stroke-width="1.0"/>
<line x1="120.5" y1="264.3" x2="120.5" y2="268.4" stroke="#1a1a1a" stroke-width="1.0"/>
<line x1="118.25" y1="268.5" x2="122.65" y2="268.5" stroke="#1a1a1a" stroke-width="1.0"/>
<circle cx="96.6" cy="258.3" r="2.35" fill="#e4561f" stroke="#111" stroke-width="0.85"/>
<circle cx="120.45" cy="264.3" r="2.35" fill="#e4561f" stroke="#111" stroke-width="0.85"/>
<circle cx="144.3" cy="257.9" r="2.35" fill="#e4561f" stroke="#111" stroke-width="0.85"/>
<circle cx="72.75" cy="244.7" r="2.35" fill="#f2dd2c" stroke="#111" stroke-width="0.85"/>
<circle cx="96.6" cy="252.4" r="2.35" fill="#f2dd2c" stroke="#111" stroke-width="0.85"/>
<circle cx="120.45" cy="258.5" r="2.35" fill="#f2dd2c" stroke="#111" stroke-width="0.85"/>
<circle cx="144.3" cy="263.3" r="2.35" fill="#f2dd2c" stroke="#111" stroke-width="0.85"/>
<circle cx="48.9" cy="205" r="2.3" fill="#fff" stroke="#111" stroke-width="0.9"/>
<circle cx="72.75" cy="204" r="2.35" fill="#111" stroke="#111" stroke-width="0.85"/>
<circle cx="96.6" cy="211" r="2.35" fill="#111" stroke="#111" stroke-width="0.85"/>
<circle cx="120.45" cy="202.3" r="2.35" fill="#111" stroke="#111" stroke-width="0.85"/>
<circle cx="144.3" cy="213" r="2.35" fill="#111" stroke="#111" stroke-width="0.85"/>
<polygon points="78.4,237.8 78.9,239.01 80.21,239.11 79.21,239.96 79.52,241.24 78.4,240.55 77.28,241.24 77.59,239.96 76.59,239.11 77.9,239.01" fill="#1a1a1a"/>
<polygon points="82.4,237.8 82.9,239.01 84.21,239.11 83.21,239.96 83.52,241.24 82.4,240.55 81.28,241.24 81.59,239.96 80.59,239.11 81.9,239.01" fill="#1a1a1a"/>
<polygon points="78.4,250.9 78.9,252.11 80.21,252.21 79.21,253.06 79.52,254.34 78.4,253.65 77.28,254.34 77.59,253.06 76.59,252.21 77.9,252.11" fill="#1a1a1a"/>
<polygon points="82.4,250.9 82.9,252.11 84.21,252.21 83.21,253.06 83.52,254.34 82.4,253.65 81.28,254.34 81.59,253.06 80.59,252.21 81.9,252.11" fill="#1a1a1a"/>
<polygon points="101.6,242.8 102.1,244.01 103.41,244.11 102.41,244.96 102.72,246.24 101.6,245.55 100.48,246.24 100.79,244.96 99.79,244.11 101.1,244.01" fill="#1a1a1a"/>
<polygon points="105.6,242.8 106.1,244.01 107.41,244.11 106.41,244.96 106.72,246.24 105.6,245.55 104.48,246.24 104.79,244.96 103.79,244.11 105.1,244.01" fill="#1a1a1a"/>
<polygon points="102.6,262.1 103.1,263.31 104.41,263.41 103.41,264.26 103.72,265.54 102.6,264.85 101.48,265.54 101.79,264.26 100.79,263.41 102.1,263.31" fill="#1a1a1a"/>
<polygon points="106.6,262.1 107.1,263.31 108.41,263.41 107.41,264.26 107.72,265.54 106.6,264.85 105.48,265.54 105.79,264.26 104.79,263.41 106.1,263.31" fill="#1a1a1a"/>
<polygon points="125.9,248.9 126.4,250.11 127.71,250.21 126.71,251.06 127.02,252.34 125.9,251.65 124.78,252.34 125.09,251.06 124.09,250.21 125.4,250.11" fill="#1a1a1a"/>
<polygon points="129.9,248.9 130.4,250.11 131.71,250.21 130.71,251.06 131.02,252.34 129.9,251.65 128.78,252.34 129.09,251.06 128.09,250.21 129.4,250.11" fill="#1a1a1a"/>
<polygon points="126.9,267.1 127.4,268.31 128.71,268.41 127.71,269.26 128.02,270.54 126.9,269.85 125.78,270.54 126.09,269.26 125.09,268.41 126.4,268.31" fill="#1a1a1a"/>
<polygon points="130.9,267.1 131.4,268.31 132.71,268.41 131.71,269.26 132.02,270.54 130.9,269.85 129.78,270.54 130.09,269.26 129.09,268.41 130.4,268.31" fill="#1a1a1a"/>
<polygon points="149.7,248.9 150.2,250.11 151.51,250.21 150.51,251.06 150.82,252.34 149.7,251.65 148.58,252.34 148.89,251.06 147.89,250.21 149.2,250.11" fill="#1a1a1a"/>
<polygon points="153.7,248.9 154.2,250.11 155.51,250.21 154.51,251.06 154.82,252.34 153.7,251.65 152.58,252.34 152.89,251.06 151.89,250.21 153.2,250.11" fill="#1a1a1a"/>
<polygon points="149.7,266.1 150.2,267.31 151.51,267.41 150.51,268.26 150.82,269.54 149.7,268.85 148.58,269.54 148.89,268.26 147.89,267.41 149.2,267.31" fill="#1a1a1a"/>
<polygon points="153.7,266.1 154.2,267.31 155.51,267.41 154.51,268.26 154.82,269.54 153.7,268.85 152.58,269.54 152.89,268.26 151.89,267.41 153.2,267.31" fill="#1a1a1a"/>
<circle cx="48.9" cy="208.5" r="2" fill="#111" stroke="#111" stroke-width="0.6"/>
<circle cx="48.9" cy="205" r="2.3" fill="#fff" stroke="#111" stroke-width="0.9"/>
<line x1="241.5" y1="179.1" x2="241.5" y2="282.2" stroke="#1a1a1a" stroke-width="1.1"/>
<line x1="237.1" y1="281.5" x2="360" y2="281.5" stroke="#1a1a1a" stroke-width="1.1"/>
<line x1="237.1" y1="281.5" x2="241.5" y2="281.5" stroke="#1a1a1a" stroke-width="1.0"/>
<text x="232.9" y="284.8" font-size="8.6" text-anchor="end">0</text>
<line x1="237.1" y1="261.5" x2="241.5" y2="261.5" stroke="#1a1a1a" stroke-width="1.0"/>
<text x="232.9" y="264.28" font-size="8.6" text-anchor="end">20</text>
<line x1="237.1" y1="240.5" x2="241.5" y2="240.5" stroke="#1a1a1a" stroke-width="1.0"/>
<text x="232.9" y="243.76" font-size="8.6" text-anchor="end">40</text>
<line x1="237.1" y1="220.5" x2="241.5" y2="220.5" stroke="#1a1a1a" stroke-width="1.0"/>
<text x="232.9" y="223.24" font-size="8.6" text-anchor="end">60</text>
<line x1="237.1" y1="199.5" x2="241.5" y2="199.5" stroke="#1a1a1a" stroke-width="1.0"/>
<text x="232.9" y="202.72" font-size="8.6" text-anchor="end">80</text>
<line x1="237.1" y1="179.5" x2="241.5" y2="179.5" stroke="#1a1a1a" stroke-width="1.0"/>
<text x="232.9" y="182.2" font-size="8.6" text-anchor="end">100</text>
<line x1="241.5" y1="281.7" x2="241.5" y2="286.2" stroke="#1a1a1a" stroke-width="1.0"/>
<text x="241.5" y="296.5" font-size="8.6" text-anchor="middle">0</text>
<line x1="265.5" y1="281.7" x2="265.5" y2="286.2" stroke="#1a1a1a" stroke-width="1.0"/>
<text x="265.2" y="296.5" font-size="8.6" text-anchor="middle">1</text>
<line x1="288.5" y1="281.7" x2="288.5" y2="286.2" stroke="#1a1a1a" stroke-width="1.0"/>
<text x="288.9" y="296.5" font-size="8.6" text-anchor="middle">2</text>
<line x1="312.5" y1="281.7" x2="312.5" y2="286.2" stroke="#1a1a1a" stroke-width="1.0"/>
<text x="312.6" y="296.5" font-size="8.6" text-anchor="middle">3</text>
<line x1="336.5" y1="281.7" x2="336.5" y2="286.2" stroke="#1a1a1a" stroke-width="1.0"/>
<text x="336.3" y="296.5" font-size="8.6" text-anchor="middle">4</text>
<line x1="360.5" y1="281.7" x2="360.5" y2="286.2" stroke="#1a1a1a" stroke-width="1.0"/>
<text x="360" y="296.5" font-size="8.6" text-anchor="middle">5</text>
<text x="300.75" y="308.9" font-size="8.6" text-anchor="middle">Days</text>
<text x="298.6" y="174.8" font-size="8.6" text-anchor="middle">Remaining ATP</text>
<text x="210.3" y="233.2" font-size="8.6" text-anchor="middle" transform="rotate(-90 210.3 233.2)">Remaining ATP (%)</text>
<text x="198.2" y="169.5" font-size="12" text-anchor="start" font-weight="bold">e</text>
<polyline points="241.5,256.5 265.2,249.4 288.9,250.4 312.6,245.8 336.3,239.1" fill="none" stroke="#1a1a1a" stroke-width="1.1" stroke-linejoin="round"/>
<polyline points="241.5,256.5 265.2,246.2 288.9,215.5 312.6,206.4 336.3,214.4" fill="none" stroke="#1a1a1a" stroke-width="1.1" stroke-linejoin="round"/>
<polyline points="241.5,256.5 265.2,233 288.9,232.2 312.6,203.3 336.3,214.4" fill="none" stroke="#1a1a1a" stroke-width="1.1" stroke-linejoin="round"/>
<line x1="241.5" y1="250.4" x2="241.5" y2="256.5" stroke="#1a1a1a" stroke-width="1.0"/>
<line x1="239.3" y1="250.5" x2="243.7" y2="250.5" stroke="#1a1a1a" stroke-width="1.0"/>
<line x1="241.5" y1="256.5" x2="241.5" y2="261.9" stroke="#1a1a1a" stroke-width="1.0"/>
<line x1="239.3" y1="261.5" x2="243.7" y2="261.5" stroke="#1a1a1a" stroke-width="1.0"/>
<line x1="336.5" y1="202.3" x2="336.5" y2="239.1" stroke="#1a1a1a" stroke-width="1.0"/>
<line x1="334.1" y1="202.5" x2="338.5" y2="202.5" stroke="#1a1a1a" stroke-width="1.0"/>
<line x1="336.5" y1="239.1" x2="336.5" y2="256.5" stroke="#1a1a1a" stroke-width="1.0"/>
<line x1="334.1" y1="256.5" x2="338.5" y2="256.5" stroke="#1a1a1a" stroke-width="1.0"/>
<line x1="265.5" y1="243.2" x2="265.5" y2="246.2" stroke="#1a1a1a" stroke-width="1.0"/>
<line x1="263" y1="243.5" x2="267.4" y2="243.5" stroke="#1a1a1a" stroke-width="1.0"/>
<line x1="288.5" y1="208.4" x2="288.5" y2="215.5" stroke="#1a1a1a" stroke-width="1.0"/>
<line x1="286.7" y1="208.5" x2="291.1" y2="208.5" stroke="#1a1a1a" stroke-width="1.0"/>
<line x1="288.5" y1="215.5" x2="288.5" y2="222" stroke="#1a1a1a" stroke-width="1.0"/>
<line x1="286.7" y1="222.5" x2="291.1" y2="222.5" stroke="#1a1a1a" stroke-width="1.0"/>
<line x1="312.5" y1="206.4" x2="312.5" y2="212" stroke="#1a1a1a" stroke-width="1.0"/>
<line x1="310.4" y1="212.5" x2="314.8" y2="212.5" stroke="#1a1a1a" stroke-width="1.0"/>
<line x1="336.5" y1="202.3" x2="336.5" y2="214.4" stroke="#1a1a1a" stroke-width="1.0"/>
<line x1="334.1" y1="202.5" x2="338.5" y2="202.5" stroke="#1a1a1a" stroke-width="1.0"/>
<line x1="336.5" y1="214.4" x2="336.5" y2="223.5" stroke="#1a1a1a" stroke-width="1.0"/>
<line x1="334.1" y1="223.5" x2="338.5" y2="223.5" stroke="#1a1a1a" stroke-width="1.0"/>
<line x1="265.5" y1="229" x2="265.5" y2="233" stroke="#1a1a1a" stroke-width="1.0"/>
<line x1="263" y1="229.5" x2="267.4" y2="229.5" stroke="#1a1a1a" stroke-width="1.0"/>
<line x1="265.5" y1="233" x2="265.5" y2="237.3" stroke="#1a1a1a" stroke-width="1.0"/>
<line x1="263" y1="237.5" x2="267.4" y2="237.5" stroke="#1a1a1a" stroke-width="1.0"/>
<line x1="288.5" y1="225" x2="288.5" y2="232.2" stroke="#1a1a1a" stroke-width="1.0"/>
<line x1="286.7" y1="225.5" x2="291.1" y2="225.5" stroke="#1a1a1a" stroke-width="1.0"/>
<line x1="288.5" y1="232.2" x2="288.5" y2="239.1" stroke="#1a1a1a" stroke-width="1.0"/>
<line x1="286.7" y1="239.5" x2="291.1" y2="239.5" stroke="#1a1a1a" stroke-width="1.0"/>
<line x1="336.5" y1="228.6" x2="336.5" y2="214.4" stroke="#1a1a1a" stroke-width="1.0"/>
<line x1="334.1" y1="228.5" x2="338.5" y2="228.5" stroke="#1a1a1a" stroke-width="1.0"/>
<circle cx="241.5" cy="256.5" r="2.35" fill="#e4561f" stroke="#111" stroke-width="0.85"/>
<circle cx="265.2" cy="233" r="2.35" fill="#e4561f" stroke="#111" stroke-width="0.85"/>
<circle cx="288.9" cy="232.2" r="2.35" fill="#e4561f" stroke="#111" stroke-width="0.85"/>
<circle cx="312.6" cy="203.3" r="2.35" fill="#e4561f" stroke="#111" stroke-width="0.85"/>
<circle cx="241.5" cy="256.5" r="2.35" fill="#f2dd2c" stroke="#111" stroke-width="0.85"/>
<circle cx="265.2" cy="246.2" r="2.35" fill="#f2dd2c" stroke="#111" stroke-width="0.85"/>
<circle cx="288.9" cy="215.5" r="2.35" fill="#f2dd2c" stroke="#111" stroke-width="0.85"/>
<circle cx="312.6" cy="206.4" r="2.35" fill="#f2dd2c" stroke="#111" stroke-width="0.85"/>
<circle cx="336.3" cy="214.4" r="2.35" fill="#f2dd2c" stroke="#111" stroke-width="0.85"/>
<circle cx="241.5" cy="256.5" r="2.35" fill="#111" stroke="#111" stroke-width="0.85"/>
<rect x="263.5" y="247.5" width="4" height="4" fill="#111" stroke="#111" stroke-width="0.8"/>
<rect x="287.5" y="248.5" width="3" height="4" fill="#111" stroke="#111" stroke-width="0.8"/>
<rect x="310.5" y="243.5" width="4" height="4" fill="#111" stroke="#111" stroke-width="0.8"/>
<circle cx="336.3" cy="239.1" r="2.35" fill="#111" stroke="#111" stroke-width="0.85"/>
<polygon points="294.6,202.8 295.1,204.01 296.41,204.11 295.41,204.96 295.72,206.24 294.6,205.55 293.48,206.24 293.79,204.96 292.79,204.11 294.1,204.01" fill="#1a1a1a"/>
<polygon points="298.6,202.8 299.1,204.01 300.41,204.11 299.41,204.96 299.72,206.24 298.6,205.55 297.48,206.24 297.79,204.96 296.79,204.11 298.1,204.01" fill="#1a1a1a"/>
<polygon points="295.1,230.7 295.6,231.91 296.91,232.01 295.91,232.86 296.22,234.14 295.1,233.45 293.98,234.14 294.29,232.86 293.29,232.01 294.6,231.91" fill="#1a1a1a"/>
<polygon points="317.5,193.8 318,195.01 319.31,195.11 318.31,195.96 318.62,197.24 317.5,196.55 316.38,197.24 316.69,195.96 315.69,195.11 317,195.01" fill="#1a1a1a"/>
<polygon points="321.5,193.8 322,195.01 323.31,195.11 322.31,195.96 322.62,197.24 321.5,196.55 320.38,197.24 320.69,195.96 319.69,195.11 321,195.01" fill="#1a1a1a"/>
<polygon points="317.5,211.7 318,212.91 319.31,213.01 318.31,213.86 318.62,215.14 317.5,214.45 316.38,215.14 316.69,213.86 315.69,213.01 317,212.91" fill="#1a1a1a"/>
<polygon points="321.5,211.7 322,212.91 323.31,213.01 322.31,213.86 322.62,215.14 321.5,214.45 320.38,215.14 320.69,213.86 319.69,213.01 321,212.91" fill="#1a1a1a"/>
<line x1="408.9" y1="213.5" x2="423.6" y2="213.5" stroke="#1a1a1a" stroke-width="1.1"/>
<circle cx="416.2" cy="213.8" r="2.05" fill="#111" stroke="#111" stroke-width="0.7"/>
<text x="428.9" y="216.9" font-size="8.6" text-anchor="start">Zn-Suf (33.7 mg/kg)</text>
<line x1="408.9" y1="230.5" x2="423.6" y2="230.5" stroke="#1a1a1a" stroke-width="1.1"/>
<circle cx="416.2" cy="230.4" r="2.05" fill="#f2dd2c" stroke="#111" stroke-width="0.7"/>
<text x="428.9" y="233.5" font-size="8.6" text-anchor="start">Zn-Low (4.1 mg/kg)</text>
<line x1="408.9" y1="247.5" x2="423.6" y2="247.5" stroke="#1a1a1a" stroke-width="1.1"/>
<circle cx="416.2" cy="247" r="2.05" fill="#e4561f" stroke="#111" stroke-width="0.7"/>
<text x="428.9" y="250.1" font-size="8.6" text-anchor="start">Zn-Def (2.2 mg/kg)</text>
<line x1="41.5" y1="349.3" x2="41.5" y2="493.3" stroke="#1a1a1a" stroke-width="1.1"/>
<line x1="40.6" y1="493.5" x2="145.5" y2="493.5" stroke="#1a1a1a" stroke-width="1.1"/>
<line x1="41.1" y1="493.5" x2="44.3" y2="493.5" stroke="#1a1a1a" stroke-width="1.0"/>
<text x="36.5" y="496.4" font-size="8.6" text-anchor="end">0</text>
<line x1="41.1" y1="469.5" x2="44.3" y2="469.5" stroke="#1a1a1a" stroke-width="1.0"/>
<text x="36.5" y="472.4" font-size="8.6" text-anchor="end">200</text>
<line x1="41.1" y1="445.5" x2="44.3" y2="445.5" stroke="#1a1a1a" stroke-width="1.0"/>
<text x="36.5" y="448.4" font-size="8.6" text-anchor="end">400</text>
<line x1="41.1" y1="421.5" x2="44.3" y2="421.5" stroke="#1a1a1a" stroke-width="1.0"/>
<text x="36.5" y="424.4" font-size="8.6" text-anchor="end">600</text>
<line x1="41.1" y1="397.5" x2="44.3" y2="397.5" stroke="#1a1a1a" stroke-width="1.0"/>
<text x="36.5" y="400.4" font-size="8.6" text-anchor="end">800</text>
<line x1="41.1" y1="373.5" x2="44.3" y2="373.5" stroke="#1a1a1a" stroke-width="1.0"/>
<text x="36.5" y="376.4" font-size="8.6" text-anchor="end">1000</text>
<line x1="41.1" y1="349.5" x2="44.3" y2="349.5" stroke="#1a1a1a" stroke-width="1.0"/>
<text x="36.5" y="352.4" font-size="8.6" text-anchor="end">1200</text>
<text x="92.9" y="335.5" font-size="8.6" text-anchor="middle">Npp activity</text>
<text x="10.2" y="420.7" font-size="8.6" text-anchor="middle" transform="rotate(-90 10.2 420.7)">Npp activity (mU/mL plasma)</text>
<text x="0" y="330.5" font-size="12" text-anchor="start" font-weight="bold">f</text>
<rect x="49.5" y="379.5" width="14" height="114" fill="#fff" stroke="#1a1a1a" stroke-width="1.1"/>
<line x1="56.5" y1="365.4" x2="56.5" y2="379.3" stroke="#1a1a1a" stroke-width="1.0"/>
<line x1="54.9" y1="365.5" x2="58.5" y2="365.5" stroke="#1a1a1a" stroke-width="1.0"/>
<rect x="74.5" y="440.5" width="14" height="53" fill="#f0dd2a" stroke="#1a1a1a" stroke-width="1.1"/>
<line x1="81.5" y1="414.7" x2="81.5" y2="440.9" stroke="#1a1a1a" stroke-width="1.0"/>
<line x1="79.4" y1="414.5" x2="83" y2="414.5" stroke="#1a1a1a" stroke-width="1.0"/>
<rect x="98.5" y="414.5" width="14" height="79" fill="#efe096" stroke="#1a1a1a" stroke-width="1.1"/>
<line x1="105.5" y1="392.3" x2="105.5" y2="414.5" stroke="#1a1a1a" stroke-width="1.0"/>
<line x1="103.6" y1="392.5" x2="107.2" y2="392.5" stroke="#1a1a1a" stroke-width="1.0"/>
<rect x="122.5" y="410.5" width="14" height="83" fill="#f8f0d8" stroke="#1a1a1a" stroke-width="1.1"/>
<line x1="129.5" y1="405.6" x2="129.5" y2="410.6" stroke="#1a1a1a" stroke-width="1.0"/>
<line x1="127.7" y1="405.5" x2="131.3" y2="405.5" stroke="#1a1a1a" stroke-width="1.0"/>
<line x1="55" y1="361.5" x2="81" y2="361.5" stroke="#1a1a1a" stroke-width="0.9"/>
<polygon points="66.2,356.5 66.7,357.71 68.01,357.81 67.01,358.66 67.32,359.94 66.2,359.25 65.08,359.94 65.39,358.66 64.39,357.81 65.7,357.71" fill="#1a1a1a"/>
<polygon points="70.2,356.5 70.7,357.71 72.01,357.81 71.01,358.66 71.32,359.94 70.2,359.25 69.08,359.94 69.39,358.66 68.39,357.81 69.7,357.71" fill="#1a1a1a"/>
<line x1="55" y1="353.5" x2="106.7" y2="353.5" stroke="#1a1a1a" stroke-width="0.9"/>
<polygon points="81,349.3 81.5,350.51 82.81,350.61 81.81,351.46 82.12,352.74 81,352.05 79.88,352.74 80.19,351.46 79.19,350.61 80.5,350.51" fill="#1a1a1a"/>
<line x1="55" y1="346.5" x2="130.9" y2="346.5" stroke="#1a1a1a" stroke-width="0.9"/>
<polygon points="94.2,341.8 94.7,343.01 96.01,343.11 95.01,343.96 95.32,345.24 94.2,344.55 93.08,345.24 93.39,343.96 92.39,343.11 93.7,343.01" fill="#1a1a1a"/>
<path d="M59.45 364.7h1.9M60.4 363.75v1.9" stroke="#7a7a7a" stroke-width="0.75" fill="none"/>
<path d="M54.25 372.8h1.9M55.2 371.85v1.9" stroke="#7a7a7a" stroke-width="0.75" fill="none"/>
<path d="M57.15 375.4h1.9M58.1 374.45v1.9" stroke="#7a7a7a" stroke-width="0.75" fill="none"/>
<path d="M56.35 382.4h1.9M57.3 381.45v1.9" stroke="#7a7a7a" stroke-width="0.75" fill="none"/>
<path d="M55.95 397.7h1.9M56.9 396.75v1.9" stroke="#7a7a7a" stroke-width="0.75" fill="none"/>
<path d="M79.95 398.9h1.9M80.9 397.95v1.9" stroke="#7a7a7a" stroke-width="0.75" fill="none"/>
<path d="M82.25 440.6h1.9M83.2 439.65v1.9" stroke="#7a7a7a" stroke-width="0.75" fill="none"/>
<path d="M79.95 444.1h1.9M80.9 443.15v1.9" stroke="#7a7a7a" stroke-width="0.75" fill="none"/>
<path d="M80.55 458.2h1.9M81.5 457.25v1.9" stroke="#7a7a7a" stroke-width="0.75" fill="none"/>
<path d="M80.55 461.7h1.9M81.5 460.75v1.9" stroke="#7a7a7a" stroke-width="0.75" fill="none"/>
<path d="M104.15 389.4h1.9M105.1 388.45v1.9" stroke="#7a7a7a" stroke-width="0.75" fill="none"/>
<path d="M101.85 405.2h1.9M102.8 404.25v1.9" stroke="#7a7a7a" stroke-width="0.75" fill="none"/>
<path d="M106.25 413.5h1.9M107.2 412.55v1.9" stroke="#7a7a7a" stroke-width="0.75" fill="none"/>
<path d="M104.55 417h1.9M105.5 416.05v1.9" stroke="#7a7a7a" stroke-width="0.75" fill="none"/>
<path d="M104.15 445.4h1.9M105.1 444.45v1.9" stroke="#7a7a7a" stroke-width="0.75" fill="none"/>
<path d="M128.55 402.6h1.9M129.5 401.65v1.9" stroke="#7a7a7a" stroke-width="0.75" fill="none"/>
<path d="M125.95 407h1.9M126.9 406.05v1.9" stroke="#7a7a7a" stroke-width="0.75" fill="none"/>
<path d="M130.85 410h1.9M131.8 409.05v1.9" stroke="#7a7a7a" stroke-width="0.75" fill="none"/>
<path d="M127.35 417.8h1.9M128.3 416.85v1.9" stroke="#7a7a7a" stroke-width="0.75" fill="none"/>
<path d="M129.95 417.8h1.9M130.9 416.85v1.9" stroke="#7a7a7a" stroke-width="0.75" fill="none"/>
<line x1="186.5" y1="348.5" x2="186.5" y2="493.3" stroke="#1a1a1a" stroke-width="1.1"/>
<line x1="185.6" y1="493.5" x2="292" y2="493.5" stroke="#1a1a1a" stroke-width="1.1"/>
<line x1="186.1" y1="493.5" x2="189.3" y2="493.5" stroke="#1a1a1a" stroke-width="1.0"/>
<text x="181.5" y="496.4" font-size="8.6" text-anchor="end">0</text>
<line x1="186.1" y1="457.5" x2="189.3" y2="457.5" stroke="#1a1a1a" stroke-width="1.0"/>
<text x="181.5" y="460.2" font-size="8.6" text-anchor="end">5</text>
<line x1="186.1" y1="420.5" x2="189.3" y2="420.5" stroke="#1a1a1a" stroke-width="1.0"/>
<text x="181.5" y="424" font-size="8.6" text-anchor="end">10</text>
<line x1="186.1" y1="384.5" x2="189.3" y2="384.5" stroke="#1a1a1a" stroke-width="1.0"/>
<text x="181.5" y="387.8" font-size="8.6" text-anchor="end">15</text>
<line x1="186.1" y1="348.5" x2="189.3" y2="348.5" stroke="#1a1a1a" stroke-width="1.0"/>
<text x="181.5" y="351.6" font-size="8.6" text-anchor="end">20</text>
<text x="238" y="336.2" font-size="8.6" text-anchor="middle">Nt5e/Cd73 activity</text>
<text x="164.3" y="420.5" font-size="8.6" text-anchor="middle" transform="rotate(-90 164.3 420.5)">Nt5e/Cd73 activity (mU/mL plasma)</text>
<text x="156.3" y="332" font-size="12" text-anchor="start" font-weight="bold">g</text>
<rect x="194.5" y="372.5" width="14" height="121" fill="#fff" stroke="#1a1a1a" stroke-width="1.1"/>
<line x1="201.5" y1="358.6" x2="201.5" y2="372.4" stroke="#1a1a1a" stroke-width="1.0"/>
<line x1="199.8" y1="358.5" x2="203.4" y2="358.5" stroke="#1a1a1a" stroke-width="1.0"/>
<rect x="219.5" y="416.5" width="14" height="77" fill="#f0dd2a" stroke="#1a1a1a" stroke-width="1.1"/>
<line x1="226.5" y1="408.8" x2="226.5" y2="416.2" stroke="#1a1a1a" stroke-width="1.0"/>
<line x1="224.85" y1="408.5" x2="228.45" y2="408.5" stroke="#1a1a1a" stroke-width="1.0"/>
<rect x="244.5" y="395.5" width="13" height="98" fill="#efe096" stroke="#1a1a1a" stroke-width="1.1"/>
<line x1="250.5" y1="368.4" x2="250.5" y2="395.5" stroke="#1a1a1a" stroke-width="1.0"/>
<line x1="248.85" y1="368.5" x2="252.45" y2="368.5" stroke="#1a1a1a" stroke-width="1.0"/>
<rect x="267.5" y="392.5" width="15" height="101" fill="#f8f0d8" stroke="#1a1a1a" stroke-width="1.1"/>
<line x1="275.5" y1="383" x2="275.5" y2="392.3" stroke="#1a1a1a" stroke-width="1.0"/>
<line x1="273.25" y1="383.5" x2="276.85" y2="383.5" stroke="#1a1a1a" stroke-width="1.0"/>
<line x1="199.4" y1="353.5" x2="225.4" y2="353.5" stroke="#1a1a1a" stroke-width="0.9"/>
<polygon points="211.5,349.3 212,350.51 213.31,350.61 212.31,351.46 212.62,352.74 211.5,352.05 210.38,352.74 210.69,351.46 209.69,350.61 211,350.51" fill="#1a1a1a"/>
<polygon points="215.5,349.3 216,350.51 217.31,350.61 216.31,351.46 216.62,352.74 215.5,352.05 214.38,352.74 214.69,351.46 213.69,350.61 215,350.51" fill="#1a1a1a"/>
<path d="M199.65 358.8h1.9M200.6 357.85v1.9" stroke="#7a7a7a" stroke-width="0.75" fill="none"/>
<path d="M202.05 364h1.9M203 363.05v1.9" stroke="#7a7a7a" stroke-width="0.75" fill="none"/>
<path d="M201.05 374h1.9M202 373.05v1.9" stroke="#7a7a7a" stroke-width="0.75" fill="none"/>
<path d="M201.05 378.9h1.9M202 377.95v1.9" stroke="#7a7a7a" stroke-width="0.75" fill="none"/>
<path d="M200.05 391.3h1.9M201 390.35v1.9" stroke="#7a7a7a" stroke-width="0.75" fill="none"/>
<path d="M225.95 403h1.9M226.9 402.05v1.9" stroke="#7a7a7a" stroke-width="0.75" fill="none"/>
<path d="M225.45 413h1.9M226.4 412.05v1.9" stroke="#7a7a7a" stroke-width="0.75" fill="none"/>
<path d="M224.05 422h1.9M225 421.05v1.9" stroke="#7a7a7a" stroke-width="0.75" fill="none"/>
<path d="M225.55 421h1.9M226.5 420.05v1.9" stroke="#7a7a7a" stroke-width="0.75" fill="none"/>
<path d="M251.55 357h1.9M252.5 356.05v1.9" stroke="#7a7a7a" stroke-width="0.75" fill="none"/>
<path d="M252.05 385.5h1.9M253 384.55v1.9" stroke="#7a7a7a" stroke-width="0.75" fill="none"/>
<path d="M250.05 405h1.9M251 404.05v1.9" stroke="#7a7a7a" stroke-width="0.75" fill="none"/>
<path d="M250.05 410.6h1.9M251 409.65v1.9" stroke="#7a7a7a" stroke-width="0.75" fill="none"/>
<path d="M249.65 417.6h1.9M250.6 416.65v1.9" stroke="#7a7a7a" stroke-width="0.75" fill="none"/>
<path d="M273.55 380h1.9M274.5 379.05v1.9" stroke="#7a7a7a" stroke-width="0.75" fill="none"/>
<path d="M275.65 393h1.9M276.6 392.05v1.9" stroke="#7a7a7a" stroke-width="0.75" fill="none"/>
<path d="M273.55 400h1.9M274.5 399.05v1.9" stroke="#7a7a7a" stroke-width="0.75" fill="none"/>
<path d="M274.05 404.6h1.9M275 403.65v1.9" stroke="#7a7a7a" stroke-width="0.75" fill="none"/>
<line x1="337.5" y1="348.8" x2="337.5" y2="493.3" stroke="#1a1a1a" stroke-width="1.1"/>
<line x1="336.5" y1="493.5" x2="440" y2="493.5" stroke="#1a1a1a" stroke-width="1.1"/>
<line x1="337" y1="493.5" x2="340.2" y2="493.5" stroke="#1a1a1a" stroke-width="1.0"/>
<text x="332.4" y="496.4" font-size="8.6" text-anchor="end">0</text>
<line x1="337" y1="464.5" x2="340.2" y2="464.5" stroke="#1a1a1a" stroke-width="1.0"/>
<text x="332.4" y="467.5" font-size="8.6" text-anchor="end">0.1</text>
<line x1="337" y1="435.5" x2="340.2" y2="435.5" stroke="#1a1a1a" stroke-width="1.0"/>
<text x="332.4" y="438.6" font-size="8.6" text-anchor="end">0.2</text>
<line x1="337" y1="406.5" x2="340.2" y2="406.5" stroke="#1a1a1a" stroke-width="1.0"/>
<text x="332.4" y="409.7" font-size="8.6" text-anchor="end">0.3</text>
<line x1="337" y1="377.5" x2="340.2" y2="377.5" stroke="#1a1a1a" stroke-width="1.0"/>
<text x="332.4" y="380.8" font-size="8.6" text-anchor="end">0.4</text>
<line x1="337" y1="348.5" x2="340.2" y2="348.5" stroke="#1a1a1a" stroke-width="1.0"/>
<text x="332.4" y="351.9" font-size="8.6" text-anchor="end">0.5</text>
<text x="389" y="335.5" font-size="8.6" text-anchor="middle">Alp activity</text>
<text x="311.8" y="420.5" font-size="8.6" text-anchor="middle" transform="rotate(-90 311.8 420.5)">Alp activity (mU/μL plasma)</text>
<text x="304.8" y="332" font-size="12" text-anchor="start" font-weight="bold">h</text>
<rect x="345.5" y="380.5" width="14" height="113" fill="#fff" stroke="#1a1a1a" stroke-width="1.1"/>
<line x1="352.5" y1="374.3" x2="352.5" y2="380.4" stroke="#1a1a1a" stroke-width="1.0"/>
<line x1="350.6" y1="374.5" x2="354.2" y2="374.5" stroke="#1a1a1a" stroke-width="1.0"/>
<rect x="369.5" y="421.5" width="15" height="72" fill="#f0dd2a" stroke="#1a1a1a" stroke-width="1.1"/>
<line x1="376.5" y1="412.2" x2="376.5" y2="421.5" stroke="#1a1a1a" stroke-width="1.0"/>
<line x1="375.1" y1="412.5" x2="378.7" y2="412.5" stroke="#1a1a1a" stroke-width="1.0"/>
<rect x="394.5" y="406.5" width="14" height="87" fill="#efe096" stroke="#1a1a1a" stroke-width="1.1"/>
<line x1="401.5" y1="399" x2="401.5" y2="406.1" stroke="#1a1a1a" stroke-width="1.0"/>
<line x1="399.7" y1="399.5" x2="403.3" y2="399.5" stroke="#1a1a1a" stroke-width="1.0"/>
<rect x="418.5" y="409.5" width="14" height="84" fill="#f8f0d8" stroke="#1a1a1a" stroke-width="1.1"/>
<line x1="425.5" y1="405.6" x2="425.5" y2="409.6" stroke="#1a1a1a" stroke-width="1.0"/>
<line x1="423.95" y1="405.5" x2="427.55" y2="405.5" stroke="#1a1a1a" stroke-width="1.0"/>
<line x1="351.6" y1="365.5" x2="377.6" y2="365.5" stroke="#1a1a1a" stroke-width="0.9"/>
<polygon points="362.6,361.3 363.1,362.51 364.41,362.61 363.41,363.46 363.72,364.74 362.6,364.05 361.48,364.74 361.79,363.46 360.79,362.61 362.1,362.51" fill="#1a1a1a"/>
<polygon points="366.6,361.3 367.1,362.51 368.41,362.61 367.41,363.46 367.72,364.74 366.6,364.05 365.48,364.74 365.79,363.46 364.79,362.61 366.1,362.51" fill="#1a1a1a"/>
<line x1="351.6" y1="358.5" x2="402.3" y2="358.5" stroke="#1a1a1a" stroke-width="0.9"/>
<polygon points="375,354.1 375.5,355.31 376.81,355.41 375.81,356.26 376.12,357.54 375,356.85 373.88,357.54 374.19,356.26 373.19,355.41 374.5,355.31" fill="#1a1a1a"/>
<polygon points="379,354.1 379.5,355.31 380.81,355.41 379.81,356.26 380.12,357.54 379,356.85 377.88,357.54 378.19,356.26 377.19,355.41 378.5,355.31" fill="#1a1a1a"/>
<line x1="351.6" y1="351.5" x2="426.7" y2="351.5" stroke="#1a1a1a" stroke-width="0.9"/>
<polygon points="388,346.9 388.5,348.11 389.81,348.21 388.81,349.06 389.12,350.34 388,349.65 386.88,350.34 387.19,349.06 386.19,348.21 387.5,348.11" fill="#1a1a1a"/>
<polygon points="392,346.9 392.5,348.11 393.81,348.21 392.81,349.06 393.12,350.34 392,349.65 390.88,350.34 391.19,349.06 390.19,348.21 391.5,348.11" fill="#1a1a1a"/>
<path d="M352.05 370h1.9M353 369.05v1.9" stroke="#7a7a7a" stroke-width="0.75" fill="none"/>
<path d="M350.05 374.3h1.9M351 373.35v1.9" stroke="#7a7a7a" stroke-width="0.75" fill="none"/>
<path d="M350.05 388h1.9M351 387.05v1.9" stroke="#7a7a7a" stroke-width="0.75" fill="none"/>
<path d="M353.05 387h1.9M354 386.05v1.9" stroke="#7a7a7a" stroke-width="0.75" fill="none"/>
<path d="M373.45 411h1.9M374.4 410.05v1.9" stroke="#7a7a7a" stroke-width="0.75" fill="none"/>
<path d="M378.05 413h1.9M379 412.05v1.9" stroke="#7a7a7a" stroke-width="0.75" fill="none"/>
<path d="M373.65 423h1.9M374.6 422.05v1.9" stroke="#7a7a7a" stroke-width="0.75" fill="none"/>
<path d="M376.05 427h1.9M377 426.05v1.9" stroke="#7a7a7a" stroke-width="0.75" fill="none"/>
<path d="M374.05 432h1.9M375 431.05v1.9" stroke="#7a7a7a" stroke-width="0.75" fill="none"/>
<path d="M400.45 389h1.9M401.4 388.05v1.9" stroke="#7a7a7a" stroke-width="0.75" fill="none"/>
<path d="M402.05 402h1.9M403 401.05v1.9" stroke="#7a7a7a" stroke-width="0.75" fill="none"/>
<path d="M403.05 401h1.9M404 400.05v1.9" stroke="#7a7a7a" stroke-width="0.75" fill="none"/>
<path d="M400.05 432h1.9M401 431.05v1.9" stroke="#7a7a7a" stroke-width="0.75" fill="none"/>
<path d="M424.05 402.6h1.9M425 401.65v1.9" stroke="#7a7a7a" stroke-width="0.75" fill="none"/>
<path d="M426.35 402h1.9M427.3 401.05v1.9" stroke="#7a7a7a" stroke-width="0.75" fill="none"/>
<path d="M422.25 405.6h1.9M423.2 404.65v1.9" stroke="#7a7a7a" stroke-width="0.75" fill="none"/>
<path d="M427.05 413.6h1.9M428 412.65v1.9" stroke="#7a7a7a" stroke-width="0.75" fill="none"/>
<path d="M423.65 411h1.9M424.6 410.05v1.9" stroke="#7a7a7a" stroke-width="0.75" fill="none"/>
<line x1="489.5" y1="349.3" x2="489.5" y2="493.3" stroke="#1a1a1a" stroke-width="1.1"/>
<line x1="489.2" y1="493.5" x2="594" y2="493.5" stroke="#1a1a1a" stroke-width="1.1"/>
<line x1="489.7" y1="493.5" x2="492.9" y2="493.5" stroke="#1a1a1a" stroke-width="1.0"/>
<text x="485.1" y="496.4" font-size="8.6" text-anchor="end">0</text>
<line x1="489.7" y1="457.5" x2="492.9" y2="457.5" stroke="#1a1a1a" stroke-width="1.0"/>
<text x="485.1" y="460.4" font-size="8.6" text-anchor="end">50</text>
<line x1="489.7" y1="421.5" x2="492.9" y2="421.5" stroke="#1a1a1a" stroke-width="1.0"/>
<text x="485.1" y="424.4" font-size="8.6" text-anchor="end">100</text>
<line x1="489.7" y1="385.5" x2="492.9" y2="385.5" stroke="#1a1a1a" stroke-width="1.0"/>
<text x="485.1" y="388.4" font-size="8.6" text-anchor="end">150</text>
<line x1="489.7" y1="349.5" x2="492.9" y2="349.5" stroke="#1a1a1a" stroke-width="1.0"/>
<text x="485.1" y="352.4" font-size="8.6" text-anchor="end">200</text>
<text x="541.7" y="335.8" font-size="8.6" text-anchor="middle">Plasma zinc</text>
<text x="462.5" y="421.5" font-size="8.6" text-anchor="middle" transform="rotate(-90 462.5 421.5)">Plasma zinc (μg/dL)</text>
<text x="454.8" y="332" font-size="12" text-anchor="start" font-weight="bold">i</text>
<rect x="498.5" y="382.5" width="14" height="111" fill="#fff" stroke="#1a1a1a" stroke-width="1.1"/>
<line x1="505.5" y1="368.5" x2="505.5" y2="382.5" stroke="#1a1a1a" stroke-width="1.0"/>
<line x1="503.65" y1="368.5" x2="507.25" y2="368.5" stroke="#1a1a1a" stroke-width="1.0"/>
<rect x="522.5" y="478.5" width="14" height="15" fill="#f0dd2a" stroke="#1a1a1a" stroke-width="1.1"/>
<line x1="529.5" y1="473.3" x2="529.5" y2="478.4" stroke="#1a1a1a" stroke-width="1.0"/>
<line x1="527.95" y1="473.5" x2="531.55" y2="473.5" stroke="#1a1a1a" stroke-width="1.0"/>
<rect x="547.5" y="461.5" width="14" height="32" fill="#efe096" stroke="#1a1a1a" stroke-width="1.1"/>
<line x1="554.5" y1="456.9" x2="554.5" y2="461.9" stroke="#1a1a1a" stroke-width="1.0"/>
<line x1="552.35" y1="456.5" x2="555.95" y2="456.5" stroke="#1a1a1a" stroke-width="1.0"/>
<rect x="571.5" y="461.5" width="14" height="32" fill="#f8f0d8" stroke="#1a1a1a" stroke-width="1.1"/>
<line x1="578.5" y1="458.7" x2="578.5" y2="461.9" stroke="#1a1a1a" stroke-width="1.0"/>
<line x1="576.55" y1="458.5" x2="580.15" y2="458.5" stroke="#1a1a1a" stroke-width="1.0"/>
<line x1="504.5" y1="361.5" x2="531.1" y2="361.5" stroke="#1a1a1a" stroke-width="0.9"/>
<polygon points="515.8,356.8 516.3,358.01 517.61,358.11 516.61,358.96 516.92,360.24 515.8,359.55 514.68,360.24 514.99,358.96 513.99,358.11 515.3,358.01" fill="#1a1a1a"/>
<polygon points="519.8,356.8 520.3,358.01 521.61,358.11 520.61,358.96 520.92,360.24 519.8,359.55 518.68,360.24 518.99,358.96 517.99,358.11 519.3,358.01" fill="#1a1a1a"/>
<line x1="504.5" y1="354.5" x2="555.5" y2="354.5" stroke="#1a1a1a" stroke-width="0.9"/>
<polygon points="528,349.6 528.5,350.81 529.81,350.91 528.81,351.76 529.12,353.04 528,352.35 526.88,353.04 527.19,351.76 526.19,350.91 527.5,350.81" fill="#1a1a1a"/>
<polygon points="532,349.6 532.5,350.81 533.81,350.91 532.81,351.76 533.12,353.04 532,352.35 530.88,353.04 531.19,351.76 530.19,350.91 531.5,350.81" fill="#1a1a1a"/>
<line x1="504.5" y1="346.5" x2="579.9" y2="346.5" stroke="#1a1a1a" stroke-width="0.9"/>
<polygon points="540,342.2 540.5,343.41 541.81,343.51 540.81,344.36 541.12,345.64 540,344.95 538.88,345.64 539.19,344.36 538.19,343.51 539.5,343.41" fill="#1a1a1a"/>
<polygon points="544,342.2 544.5,343.41 545.81,343.51 544.81,344.36 545.12,345.64 544,344.95 542.88,345.64 543.19,344.36 542.19,343.51 543.5,343.41" fill="#1a1a1a"/>
<path d="M503.05 342h1.9M504 341.05v1.9" stroke="#7a7a7a" stroke-width="0.75" fill="none"/>
<path d="M505.45 363.6h1.9M506.4 362.65v1.9" stroke="#7a7a7a" stroke-width="0.75" fill="none"/>
<path d="M504.65 389h1.9M505.6 388.05v1.9" stroke="#7a7a7a" stroke-width="0.75" fill="none"/>
<path d="M504.05 399h1.9M505 398.05v1.9" stroke="#7a7a7a" stroke-width="0.75" fill="none"/>
<path d="M504.05 411h1.9M505 410.05v1.9" stroke="#7a7a7a" stroke-width="0.75" fill="none"/>
<path d="M529.05 462.8h1.9M530 461.85v1.9" stroke="#7a7a7a" stroke-width="0.75" fill="none"/>
<path d="M528.05 481h1.9M529 480.05v1.9" stroke="#7a7a7a" stroke-width="0.75" fill="none"/>
<path d="M529.65 485h1.9M530.6 484.05v1.9" stroke="#7a7a7a" stroke-width="0.75" fill="none"/>
<path d="M528.65 487h1.9M529.6 486.05v1.9" stroke="#7a7a7a" stroke-width="0.75" fill="none"/>
<path d="M554.05 449.6h1.9M555 448.65v1.9" stroke="#7a7a7a" stroke-width="0.75" fill="none"/>
<path d="M555.75 462.3h1.9M556.7 461.35v1.9" stroke="#7a7a7a" stroke-width="0.75" fill="none"/>
<path d="M554.05 466h1.9M555 465.05v1.9" stroke="#7a7a7a" stroke-width="0.75" fill="none"/>
<path d="M553.65 476h1.9M554.6 475.05v1.9" stroke="#7a7a7a" stroke-width="0.75" fill="none"/>
<path d="M577.45 456.8h1.9M578.4 455.85v1.9" stroke="#7a7a7a" stroke-width="0.75" fill="none"/>
<path d="M578.75 460h1.9M579.7 459.05v1.9" stroke="#7a7a7a" stroke-width="0.75" fill="none"/>
<path d="M577.05 467h1.9M578 466.05v1.9" stroke="#7a7a7a" stroke-width="0.75" fill="none"/>
<path d="M579.45 469.6h1.9M580.4 468.65v1.9" stroke="#7a7a7a" stroke-width="0.75" fill="none"/>
<line x1="41.5" y1="528.6" x2="41.5" y2="673.8" stroke="#1a1a1a" stroke-width="1.1"/>
<line x1="40.6" y1="673.5" x2="146" y2="673.5" stroke="#1a1a1a" stroke-width="1.1"/>
<line x1="41.1" y1="673.5" x2="44.3" y2="673.5" stroke="#1a1a1a" stroke-width="1.0"/>
<text x="36.5" y="676.9" font-size="8.6" text-anchor="end">0</text>
<line x1="41.1" y1="649.5" x2="44.3" y2="649.5" stroke="#1a1a1a" stroke-width="1.0"/>
<text x="36.5" y="652.7" font-size="8.6" text-anchor="end">10</text>
<line x1="41.1" y1="625.5" x2="44.3" y2="625.5" stroke="#1a1a1a" stroke-width="1.0"/>
<text x="36.5" y="628.5" font-size="8.6" text-anchor="end">20</text>
<line x1="41.1" y1="601.5" x2="44.3" y2="601.5" stroke="#1a1a1a" stroke-width="1.0"/>
<text x="36.5" y="604.3" font-size="8.6" text-anchor="end">30</text>
<line x1="41.1" y1="577.5" x2="44.3" y2="577.5" stroke="#1a1a1a" stroke-width="1.0"/>
<text x="36.5" y="580.1" font-size="8.6" text-anchor="end">40</text>
<line x1="41.1" y1="552.5" x2="44.3" y2="552.5" stroke="#1a1a1a" stroke-width="1.0"/>
<text x="36.5" y="555.9" font-size="8.6" text-anchor="end">50</text>
<line x1="41.1" y1="528.5" x2="44.3" y2="528.5" stroke="#1a1a1a" stroke-width="1.0"/>
<text x="36.5" y="531.7" font-size="8.6" text-anchor="end">60</text>
<text x="93.2" y="520.2" font-size="8.6" text-anchor="middle">Remaining ATP</text>
<text x="17.8" y="601.5" font-size="8.6" text-anchor="middle" transform="rotate(-90 17.8 601.5)">Remaining ATP (%)</text>
<text x="-0.5" y="516" font-size="12" text-anchor="start" font-weight="bold">j</text>
<rect x="51.5" y="654.5" width="15" height="19" fill="#fff" stroke="#1a1a1a" stroke-width="1.1"/>
<line x1="59.5" y1="644.6" x2="59.5" y2="654.1" stroke="#1a1a1a" stroke-width="1.0"/>
<line x1="57.4" y1="644.5" x2="61" y2="644.5" stroke="#1a1a1a" stroke-width="1.0"/>
<rect x="75.5" y="576.5" width="14" height="97" fill="#f0dd2a" stroke="#1a1a1a" stroke-width="1.1"/>
<line x1="82.5" y1="545.4" x2="82.5" y2="576.2" stroke="#1a1a1a" stroke-width="1.0"/>
<line x1="80.9" y1="545.5" x2="84.5" y2="545.5" stroke="#1a1a1a" stroke-width="1.0"/>
<rect x="98.5" y="604.5" width="15" height="69" fill="#efe096" stroke="#1a1a1a" stroke-width="1.1"/>
<line x1="105.5" y1="578.9" x2="105.5" y2="604" stroke="#1a1a1a" stroke-width="1.0"/>
<line x1="104.15" y1="578.5" x2="107.75" y2="578.5" stroke="#1a1a1a" stroke-width="1.0"/>
<rect x="122.5" y="615.5" width="14" height="58" fill="#f8f0d8" stroke="#1a1a1a" stroke-width="1.1"/>
<line x1="129.5" y1="605.9" x2="129.5" y2="615.4" stroke="#1a1a1a" stroke-width="1.0"/>
<line x1="127.65" y1="605.5" x2="131.25" y2="605.5" stroke="#1a1a1a" stroke-width="1.0"/>
<line x1="57.6" y1="538.5" x2="83.8" y2="538.5" stroke="#1a1a1a" stroke-width="0.9"/>
<polygon points="68.8,534.1 69.3,535.31 70.61,535.41 69.61,536.26 69.92,537.54 68.8,536.85 67.68,537.54 67.99,536.26 66.99,535.41 68.3,535.31" fill="#1a1a1a"/>
<polygon points="72.8,534.1 73.3,535.31 74.61,535.41 73.61,536.26 73.92,537.54 72.8,536.85 71.68,537.54 71.99,536.26 70.99,535.41 72.3,535.31" fill="#1a1a1a"/>
<line x1="57.6" y1="531.5" x2="109.5" y2="531.5" stroke="#1a1a1a" stroke-width="0.9"/>
<polygon points="83.8,526.9 84.3,528.11 85.61,528.21 84.61,529.06 84.92,530.34 83.8,529.65 82.68,530.34 82.99,529.06 81.99,528.21 83.3,528.11" fill="#1a1a1a"/>
<path d="M58.55 638.6h1.9M59.5 637.65v1.9" stroke="#7a7a7a" stroke-width="0.75" fill="none"/>
<path d="M56.35 650h1.9M57.3 649.05v1.9" stroke="#7a7a7a" stroke-width="0.75" fill="none"/>
<path d="M59.45 660h1.9M60.4 659.05v1.9" stroke="#7a7a7a" stroke-width="0.75" fill="none"/>
<path d="M57.45 665.5h1.9M58.4 664.55v1.9" stroke="#7a7a7a" stroke-width="0.75" fill="none"/>
<path d="M82.35 535h1.9M83.3 534.05v1.9" stroke="#7a7a7a" stroke-width="0.75" fill="none"/>
<path d="M83.55 557.8h1.9M84.5 556.85v1.9" stroke="#7a7a7a" stroke-width="0.75" fill="none"/>
<path d="M81.35 567.5h1.9M82.3 566.55v1.9" stroke="#7a7a7a" stroke-width="0.75" fill="none"/>
<path d="M82.55 586.6h1.9M83.5 585.65v1.9" stroke="#7a7a7a" stroke-width="0.75" fill="none"/>
<path d="M81.55 629.3h1.9M82.5 628.35v1.9" stroke="#7a7a7a" stroke-width="0.75" fill="none"/>
<path d="M106.05 557.5h1.9M107 556.55v1.9" stroke="#7a7a7a" stroke-width="0.75" fill="none"/>
<path d="M106.55 595.6h1.9M107.5 594.65v1.9" stroke="#7a7a7a" stroke-width="0.75" fill="none"/>
<path d="M104.85 611.6h1.9M105.8 610.65v1.9" stroke="#7a7a7a" stroke-width="0.75" fill="none"/>
<path d="M104.55 619.5h1.9M105.5 618.55v1.9" stroke="#7a7a7a" stroke-width="0.75" fill="none"/>
<path d="M105.05 627h1.9M106 626.05v1.9" stroke="#7a7a7a" stroke-width="0.75" fill="none"/>
<path d="M126.55 605.6h1.9M127.5 604.65v1.9" stroke="#7a7a7a" stroke-width="0.75" fill="none"/>
<path d="M129.75 607h1.9M130.7 606.05v1.9" stroke="#7a7a7a" stroke-width="0.75" fill="none"/>
<path d="M127.55 610.6h1.9M128.5 609.65v1.9" stroke="#7a7a7a" stroke-width="0.75" fill="none"/>
<path d="M128.05 626.5h1.9M129 625.55v1.9" stroke="#7a7a7a" stroke-width="0.75" fill="none"/>
<path d="M131.55 626.5h1.9M132.5 625.55v1.9" stroke="#7a7a7a" stroke-width="0.75" fill="none"/>
<line x1="202.5" y1="553.5" x2="202.5" y2="673.8" stroke="#1a1a1a" stroke-width="1.1"/>
<line x1="201.5" y1="673.5" x2="396.8" y2="673.5" stroke="#1a1a1a" stroke-width="1.1"/>
<line x1="202" y1="673.5" x2="205.2" y2="673.5" stroke="#1a1a1a" stroke-width="1.0"/>
<text x="197.4" y="676.9" font-size="8.6" text-anchor="end">0</text>
<line x1="202" y1="649.5" x2="205.2" y2="649.5" stroke="#1a1a1a" stroke-width="1.0"/>
<text x="197.4" y="652.84" font-size="8.6" text-anchor="end">20</text>
<line x1="202" y1="625.5" x2="205.2" y2="625.5" stroke="#1a1a1a" stroke-width="1.0"/>
<text x="197.4" y="628.78" font-size="8.6" text-anchor="end">40</text>
<line x1="202" y1="601.5" x2="205.2" y2="601.5" stroke="#1a1a1a" stroke-width="1.0"/>
<text x="197.4" y="604.72" font-size="8.6" text-anchor="end">60</text>
<line x1="202" y1="577.5" x2="205.2" y2="577.5" stroke="#1a1a1a" stroke-width="1.0"/>
<text x="197.4" y="580.66" font-size="8.6" text-anchor="end">80</text>
<line x1="202" y1="553.5" x2="205.2" y2="553.5" stroke="#1a1a1a" stroke-width="1.0"/>
<text x="197.4" y="556.6" font-size="8.6" text-anchor="end">100</text>
<text x="299.4" y="546" font-size="8.6" text-anchor="middle">ATP hydrolysis</text>
<text x="176.5" y="613.5" font-size="8.6" text-anchor="middle" transform="rotate(-90 176.5 613.5)">Nucleotides (μM)</text>
<text x="169" y="516.8" font-size="12" text-anchor="start" font-weight="bold">k</text>
<rect x="208.5" y="631.5" width="9" height="42" fill="#fff" stroke="#1a1a1a" stroke-width="1.1"/>
<rect x="217.5" y="582.5" width="9" height="91" fill="#f0dd2a" stroke="#1a1a1a" stroke-width="1.1"/>
<rect x="226.5" y="600.5" width="9" height="73" fill="#efe096" stroke="#1a1a1a" stroke-width="1.1"/>
<rect x="235.5" y="607.5" width="9" height="66" fill="#f8f0d8" stroke="#1a1a1a" stroke-width="1.1"/>
<line x1="212.5" y1="622.3" x2="212.5" y2="631.5" stroke="#1a1a1a" stroke-width="1.0"/>
<line x1="211.35" y1="622.5" x2="214.55" y2="622.5" stroke="#1a1a1a" stroke-width="1.0"/>
<line x1="222.5" y1="564.4" x2="222.5" y2="582.4" stroke="#1a1a1a" stroke-width="1.0"/>
<line x1="220.4" y1="564.5" x2="223.6" y2="564.5" stroke="#1a1a1a" stroke-width="1.0"/>
<line x1="231.5" y1="576.3" x2="231.5" y2="600.8" stroke="#1a1a1a" stroke-width="1.0"/>
<line x1="229.4" y1="576.5" x2="232.6" y2="576.5" stroke="#1a1a1a" stroke-width="1.0"/>
<line x1="240.5" y1="599.8" x2="240.5" y2="607" stroke="#1a1a1a" stroke-width="1.0"/>
<line x1="238.5" y1="599.5" x2="241.7" y2="599.5" stroke="#1a1a1a" stroke-width="1.0"/>
<text x="226.5" y="683.6" font-size="8.6" text-anchor="middle">ATP</text>
<rect x="257.5" y="607.5" width="9" height="66" fill="#fff" stroke="#1a1a1a" stroke-width="1.1"/>
<rect x="266.5" y="591.5" width="9" height="82" fill="#f0dd2a" stroke="#1a1a1a" stroke-width="1.1"/>
<rect x="275.5" y="593.5" width="9" height="80" fill="#efe096" stroke="#1a1a1a" stroke-width="1.1"/>
<rect x="284.5" y="593.5" width="9" height="80" fill="#f8f0d8" stroke="#1a1a1a" stroke-width="1.1"/>
<line x1="261.5" y1="600.6" x2="261.5" y2="607.4" stroke="#1a1a1a" stroke-width="1.0"/>
<line x1="260.3" y1="600.5" x2="263.5" y2="600.5" stroke="#1a1a1a" stroke-width="1.0"/>
<line x1="271.5" y1="585.9" x2="271.5" y2="591.6" stroke="#1a1a1a" stroke-width="1.0"/>
<line x1="269.5" y1="585.5" x2="272.7" y2="585.5" stroke="#1a1a1a" stroke-width="1.0"/>
<line x1="280.5" y1="585.3" x2="280.5" y2="593.5" stroke="#1a1a1a" stroke-width="1.0"/>
<line x1="278.5" y1="585.5" x2="281.7" y2="585.5" stroke="#1a1a1a" stroke-width="1.0"/>
<line x1="288.5" y1="588.4" x2="288.5" y2="593.1" stroke="#1a1a1a" stroke-width="1.0"/>
<line x1="287.3" y1="588.5" x2="290.5" y2="588.5" stroke="#1a1a1a" stroke-width="1.0"/>
<text x="275.7" y="683.6" font-size="8.6" text-anchor="middle">ADP</text>
<rect x="306.5" y="601.5" width="9" height="72" fill="#fff" stroke="#1a1a1a" stroke-width="1.1"/>
<rect x="315.5" y="621.5" width="8" height="52" fill="#f0dd2a" stroke="#1a1a1a" stroke-width="1.1"/>
<rect x="323.5" y="607.5" width="9" height="66" fill="#efe096" stroke="#1a1a1a" stroke-width="1.1"/>
<rect x="332.5" y="604.5" width="9" height="69" fill="#f8f0d8" stroke="#1a1a1a" stroke-width="1.1"/>
<line x1="310.5" y1="596.7" x2="310.5" y2="601.9" stroke="#1a1a1a" stroke-width="1.0"/>
<line x1="309.15" y1="596.5" x2="312.35" y2="596.5" stroke="#1a1a1a" stroke-width="1.0"/>
<line x1="319.5" y1="611.5" x2="319.5" y2="621.7" stroke="#1a1a1a" stroke-width="1.0"/>
<line x1="317.7" y1="611.5" x2="320.9" y2="611.5" stroke="#1a1a1a" stroke-width="1.0"/>
<line x1="327.5" y1="594.5" x2="327.5" y2="607.4" stroke="#1a1a1a" stroke-width="1.0"/>
<line x1="326.3" y1="594.5" x2="329.5" y2="594.5" stroke="#1a1a1a" stroke-width="1.0"/>
<line x1="336.5" y1="599.8" x2="336.5" y2="604.3" stroke="#1a1a1a" stroke-width="1.0"/>
<line x1="335.3" y1="599.5" x2="338.5" y2="599.5" stroke="#1a1a1a" stroke-width="1.0"/>
<text x="323.4" y="683.6" font-size="8.6" text-anchor="middle">AMP</text>
<rect x="354.5" y="636.5" width="9" height="37" fill="#fff" stroke="#1a1a1a" stroke-width="1.1"/>
<rect x="363.5" y="660.5" width="9" height="13" fill="#f0dd2a" stroke="#1a1a1a" stroke-width="1.1"/>
<rect x="372.5" y="654.5" width="9" height="19" fill="#efe096" stroke="#1a1a1a" stroke-width="1.1"/>
<rect x="381.5" y="646.5" width="9" height="27" fill="#f8f0d8" stroke="#1a1a1a" stroke-width="1.1"/>
<line x1="359.5" y1="627.8" x2="359.5" y2="636.4" stroke="#1a1a1a" stroke-width="1.0"/>
<line x1="357.4" y1="627.5" x2="360.6" y2="627.5" stroke="#1a1a1a" stroke-width="1.0"/>
<line x1="367.5" y1="653.8" x2="367.5" y2="660.1" stroke="#1a1a1a" stroke-width="1.0"/>
<line x1="366.35" y1="653.5" x2="369.55" y2="653.5" stroke="#1a1a1a" stroke-width="1.0"/>
<line x1="376.5" y1="651.7" x2="376.5" y2="654.8" stroke="#1a1a1a" stroke-width="1.0"/>
<line x1="375.2" y1="651.5" x2="378.4" y2="651.5" stroke="#1a1a1a" stroke-width="1.0"/>
<line x1="385.5" y1="635.4" x2="385.5" y2="646.6" stroke="#1a1a1a" stroke-width="1.0"/>
<line x1="384.2" y1="635.5" x2="387.4" y2="635.5" stroke="#1a1a1a" stroke-width="1.0"/>
<text x="372.3" y="683.6" font-size="8.6" text-anchor="middle">Adenosine</text>
<line x1="213.3" y1="561.5" x2="224.1" y2="561.5" stroke="#1a1a1a" stroke-width="0.9"/>
<polygon points="218.7,557.3 219.2,558.51 220.51,558.61 219.51,559.46 219.82,560.74 218.7,560.05 217.58,560.74 217.89,559.46 216.89,558.61 218.2,558.51" fill="#1a1a1a"/>
<line x1="260.3" y1="582.5" x2="270.6" y2="582.5" stroke="#1a1a1a" stroke-width="0.9"/>
<polygon points="263.3,577.9 263.8,579.11 265.11,579.21 264.11,580.06 264.42,581.34 263.3,580.65 262.18,581.34 262.49,580.06 261.49,579.21 262.8,579.11" fill="#1a1a1a"/>
<polygon points="267.3,577.9 267.8,579.11 269.11,579.21 268.11,580.06 268.42,581.34 267.3,580.65 266.18,581.34 266.49,580.06 265.49,579.21 266.8,579.11" fill="#1a1a1a"/>
<line x1="260.3" y1="577.5" x2="279.8" y2="577.5" stroke="#1a1a1a" stroke-width="0.9"/>
<polygon points="269.5,572.6 270,573.81 271.31,573.91 270.31,574.76 270.62,576.04 269.5,575.35 268.38,576.04 268.69,574.76 267.69,573.91 269,573.81" fill="#1a1a1a"/>
<line x1="260.3" y1="571.5" x2="289.4" y2="571.5" stroke="#1a1a1a" stroke-width="0.9"/>
<polygon points="274.6,567.1 275.1,568.31 276.41,568.41 275.41,569.26 275.72,570.54 274.6,569.85 273.48,570.54 273.79,569.26 272.79,568.41 274.1,568.31" fill="#1a1a1a"/>
<line x1="309.3" y1="590.5" x2="319.5" y2="590.5" stroke="#1a1a1a" stroke-width="0.9"/>
<polygon points="314.6,585.9 315.1,587.11 316.41,587.21 315.41,588.06 315.72,589.34 314.6,588.65 313.48,589.34 313.79,588.06 312.79,587.21 314.1,587.11" fill="#1a1a1a"/>
<line x1="357.4" y1="618.5" x2="368.2" y2="618.5" stroke="#1a1a1a" stroke-width="0.9"/>
<polygon points="360.9,613.5 361.4,614.71 362.71,614.81 361.71,615.66 362.02,616.94 360.9,616.25 359.78,616.94 360.09,615.66 359.09,614.81 360.4,614.71" fill="#1a1a1a"/>
<polygon points="364.9,613.5 365.4,614.71 366.71,614.81 365.71,615.66 366.02,616.94 364.9,616.25 363.78,616.94 364.09,615.66 363.09,614.81 364.4,614.71" fill="#1a1a1a"/>
<line x1="357.4" y1="613.5" x2="376.4" y2="613.5" stroke="#1a1a1a" stroke-width="0.9"/>
<polygon points="366.6,608.6 367.1,609.81 368.41,609.91 367.41,610.76 367.72,612.04 366.6,611.35 365.48,612.04 365.79,610.76 364.79,609.91 366.1,609.81" fill="#1a1a1a"/>
<path d="M212.25 615h1.9M213.2 614.05v1.9" stroke="#7a7a7a" stroke-width="0.75" fill="none"/>
<path d="M211.45 628h1.9M212.4 627.05v1.9" stroke="#7a7a7a" stroke-width="0.75" fill="none"/>
<path d="M211.05 636h1.9M212 635.05v1.9" stroke="#7a7a7a" stroke-width="0.75" fill="none"/>
<path d="M213.05 637.5h1.9M214 636.55v1.9" stroke="#7a7a7a" stroke-width="0.75" fill="none"/>
<path d="M213.55 640.3h1.9M214.5 639.35v1.9" stroke="#7a7a7a" stroke-width="0.75" fill="none"/>
<path d="M221.75 554.5h1.9M222.7 553.55v1.9" stroke="#7a7a7a" stroke-width="0.75" fill="none"/>
<path d="M222.35 570.6h1.9M223.3 569.65v1.9" stroke="#7a7a7a" stroke-width="0.75" fill="none"/>
<path d="M220.65 587.6h1.9M221.6 586.65v1.9" stroke="#7a7a7a" stroke-width="0.75" fill="none"/>
<path d="M221.35 592h1.9M222.3 591.05v1.9" stroke="#7a7a7a" stroke-width="0.75" fill="none"/>
<path d="M220.35 607.6h1.9M221.3 606.65v1.9" stroke="#7a7a7a" stroke-width="0.75" fill="none"/>
<path d="M228.55 573.3h1.9M229.5 572.35v1.9" stroke="#7a7a7a" stroke-width="0.75" fill="none"/>
<path d="M231.05 588h1.9M232 587.05v1.9" stroke="#7a7a7a" stroke-width="0.75" fill="none"/>
<path d="M229.05 622.4h1.9M230 621.45v1.9" stroke="#7a7a7a" stroke-width="0.75" fill="none"/>
<path d="M229.05 626.6h1.9M230 625.65v1.9" stroke="#7a7a7a" stroke-width="0.75" fill="none"/>
<path d="M237.65 594.4h1.9M238.6 593.45v1.9" stroke="#7a7a7a" stroke-width="0.75" fill="none"/>
<path d="M239.75 603h1.9M240.7 602.05v1.9" stroke="#7a7a7a" stroke-width="0.75" fill="none"/>
<path d="M239.35 612.2h1.9M240.3 611.25v1.9" stroke="#7a7a7a" stroke-width="0.75" fill="none"/>
<path d="M239.35 614.5h1.9M240.3 613.55v1.9" stroke="#7a7a7a" stroke-width="0.75" fill="none"/>
<path d="M261.05 596.5h1.9M262 595.55v1.9" stroke="#7a7a7a" stroke-width="0.75" fill="none"/>
<path d="M259.55 608h1.9M260.5 607.05v1.9" stroke="#7a7a7a" stroke-width="0.75" fill="none"/>
<path d="M260.05 611h1.9M261 610.05v1.9" stroke="#7a7a7a" stroke-width="0.75" fill="none"/>
<path d="M261.05 613.5h1.9M262 612.55v1.9" stroke="#7a7a7a" stroke-width="0.75" fill="none"/>
<path d="M268.85 589.6h1.9M269.8 588.65v1.9" stroke="#7a7a7a" stroke-width="0.75" fill="none"/>
<path d="M270.25 594.6h1.9M271.2 593.65v1.9" stroke="#7a7a7a" stroke-width="0.75" fill="none"/>
<path d="M268.55 595h1.9M269.5 594.05v1.9" stroke="#7a7a7a" stroke-width="0.75" fill="none"/>
<path d="M279.45 585.5h1.9M280.4 584.55v1.9" stroke="#7a7a7a" stroke-width="0.75" fill="none"/>
<path d="M278.65 598.2h1.9M279.6 597.25v1.9" stroke="#7a7a7a" stroke-width="0.75" fill="none"/>
<path d="M279.45 605h1.9M280.4 604.05v1.9" stroke="#7a7a7a" stroke-width="0.75" fill="none"/>
<path d="M288.05 587.5h1.9M289 586.55v1.9" stroke="#7a7a7a" stroke-width="0.75" fill="none"/>
<path d="M287.05 596.5h1.9M288 595.55v1.9" stroke="#7a7a7a" stroke-width="0.75" fill="none"/>
<path d="M287.75 598h1.9M288.7 597.05v1.9" stroke="#7a7a7a" stroke-width="0.75" fill="none"/>
<path d="M311.05 593h1.9M312 592.05v1.9" stroke="#7a7a7a" stroke-width="0.75" fill="none"/>
<path d="M309.65 598.5h1.9M310.6 597.55v1.9" stroke="#7a7a7a" stroke-width="0.75" fill="none"/>
<path d="M310.55 605.3h1.9M311.5 604.35v1.9" stroke="#7a7a7a" stroke-width="0.75" fill="none"/>
<path d="M317.55 603h1.9M318.5 602.05v1.9" stroke="#7a7a7a" stroke-width="0.75" fill="none"/>
<path d="M317.75 621.5h1.9M318.7 620.55v1.9" stroke="#7a7a7a" stroke-width="0.75" fill="none"/>
<path d="M318.85 625.3h1.9M319.8 624.35v1.9" stroke="#7a7a7a" stroke-width="0.75" fill="none"/>
<path d="M326.65 588.4h1.9M327.6 587.45v1.9" stroke="#7a7a7a" stroke-width="0.75" fill="none"/>
<path d="M326.65 612h1.9M327.6 611.05v1.9" stroke="#7a7a7a" stroke-width="0.75" fill="none"/>
<path d="M326.45 618h1.9M327.4 617.05v1.9" stroke="#7a7a7a" stroke-width="0.75" fill="none"/>
<path d="M326.45 620.5h1.9M327.4 619.55v1.9" stroke="#7a7a7a" stroke-width="0.75" fill="none"/>
<path d="M337.05 601.5h1.9M338 600.55v1.9" stroke="#7a7a7a" stroke-width="0.75" fill="none"/>
<path d="M336.05 606.4h1.9M337 605.45v1.9" stroke="#7a7a7a" stroke-width="0.75" fill="none"/>
<path d="M335.65 609.8h1.9M336.6 608.85v1.9" stroke="#7a7a7a" stroke-width="0.75" fill="none"/>
<path d="M336.65 611.4h1.9M337.6 610.45v1.9" stroke="#7a7a7a" stroke-width="0.75" fill="none"/>
<path d="M358.65 623h1.9M359.6 622.05v1.9" stroke="#7a7a7a" stroke-width="0.75" fill="none"/>
<path d="M358.05 632h1.9M359 631.05v1.9" stroke="#7a7a7a" stroke-width="0.75" fill="none"/>
<path d="M358.65 648.6h1.9M359.6 647.65v1.9" stroke="#7a7a7a" stroke-width="0.75" fill="none"/>
<path d="M366.65 647h1.9M367.6 646.05v1.9" stroke="#7a7a7a" stroke-width="0.75" fill="none"/>
<path d="M366.05 661.5h1.9M367 660.55v1.9" stroke="#7a7a7a" stroke-width="0.75" fill="none"/>
<path d="M368.45 664.4h1.9M369.4 663.45v1.9" stroke="#7a7a7a" stroke-width="0.75" fill="none"/>
<path d="M367.05 667h1.9M368 666.05v1.9" stroke="#7a7a7a" stroke-width="0.75" fill="none"/>
<path d="M375.65 656.6h1.9M376.6 655.65v1.9" stroke="#7a7a7a" stroke-width="0.75" fill="none"/>
<path d="M375.65 658.2h1.9M376.6 657.25v1.9" stroke="#7a7a7a" stroke-width="0.75" fill="none"/>
<path d="M385.35 637.6h1.9M386.3 636.65v1.9" stroke="#7a7a7a" stroke-width="0.75" fill="none"/>
<path d="M385.55 642.6h1.9M386.5 641.65v1.9" stroke="#7a7a7a" stroke-width="0.75" fill="none"/>
<path d="M385.05 666.5h1.9M386 665.55v1.9" stroke="#7a7a7a" stroke-width="0.75" fill="none"/>
<rect x="430.5" y="578.5" width="7" height="7" fill="#fff" stroke="#1a1a1a" stroke-width="1.1"/>
<text x="443" y="585.2" font-size="8.6" text-anchor="start">Zn-Suf (33.7 mg/kg)</text>
<rect x="430.5" y="592.5" width="7" height="6" fill="#f0dd2a" stroke="#1a1a1a" stroke-width="1.1"/>
<text x="441.8" y="598.67" font-size="8.6" text-anchor="start">4 mg/kg</text>
<rect x="430.5" y="605.5" width="7" height="7" fill="#efe096" stroke="#1a1a1a" stroke-width="1.1"/>
<text x="441.8" y="612.14" font-size="8.6" text-anchor="start">6 mg/kg</text>
<rect x="430.5" y="619.5" width="7" height="6" fill="#f8f0d8" stroke="#1a1a1a" stroke-width="1.1"/>
<text x="441.8" y="625.61" font-size="8.6" text-anchor="start">8 mg/kg</text>
</svg>
</body></html>
